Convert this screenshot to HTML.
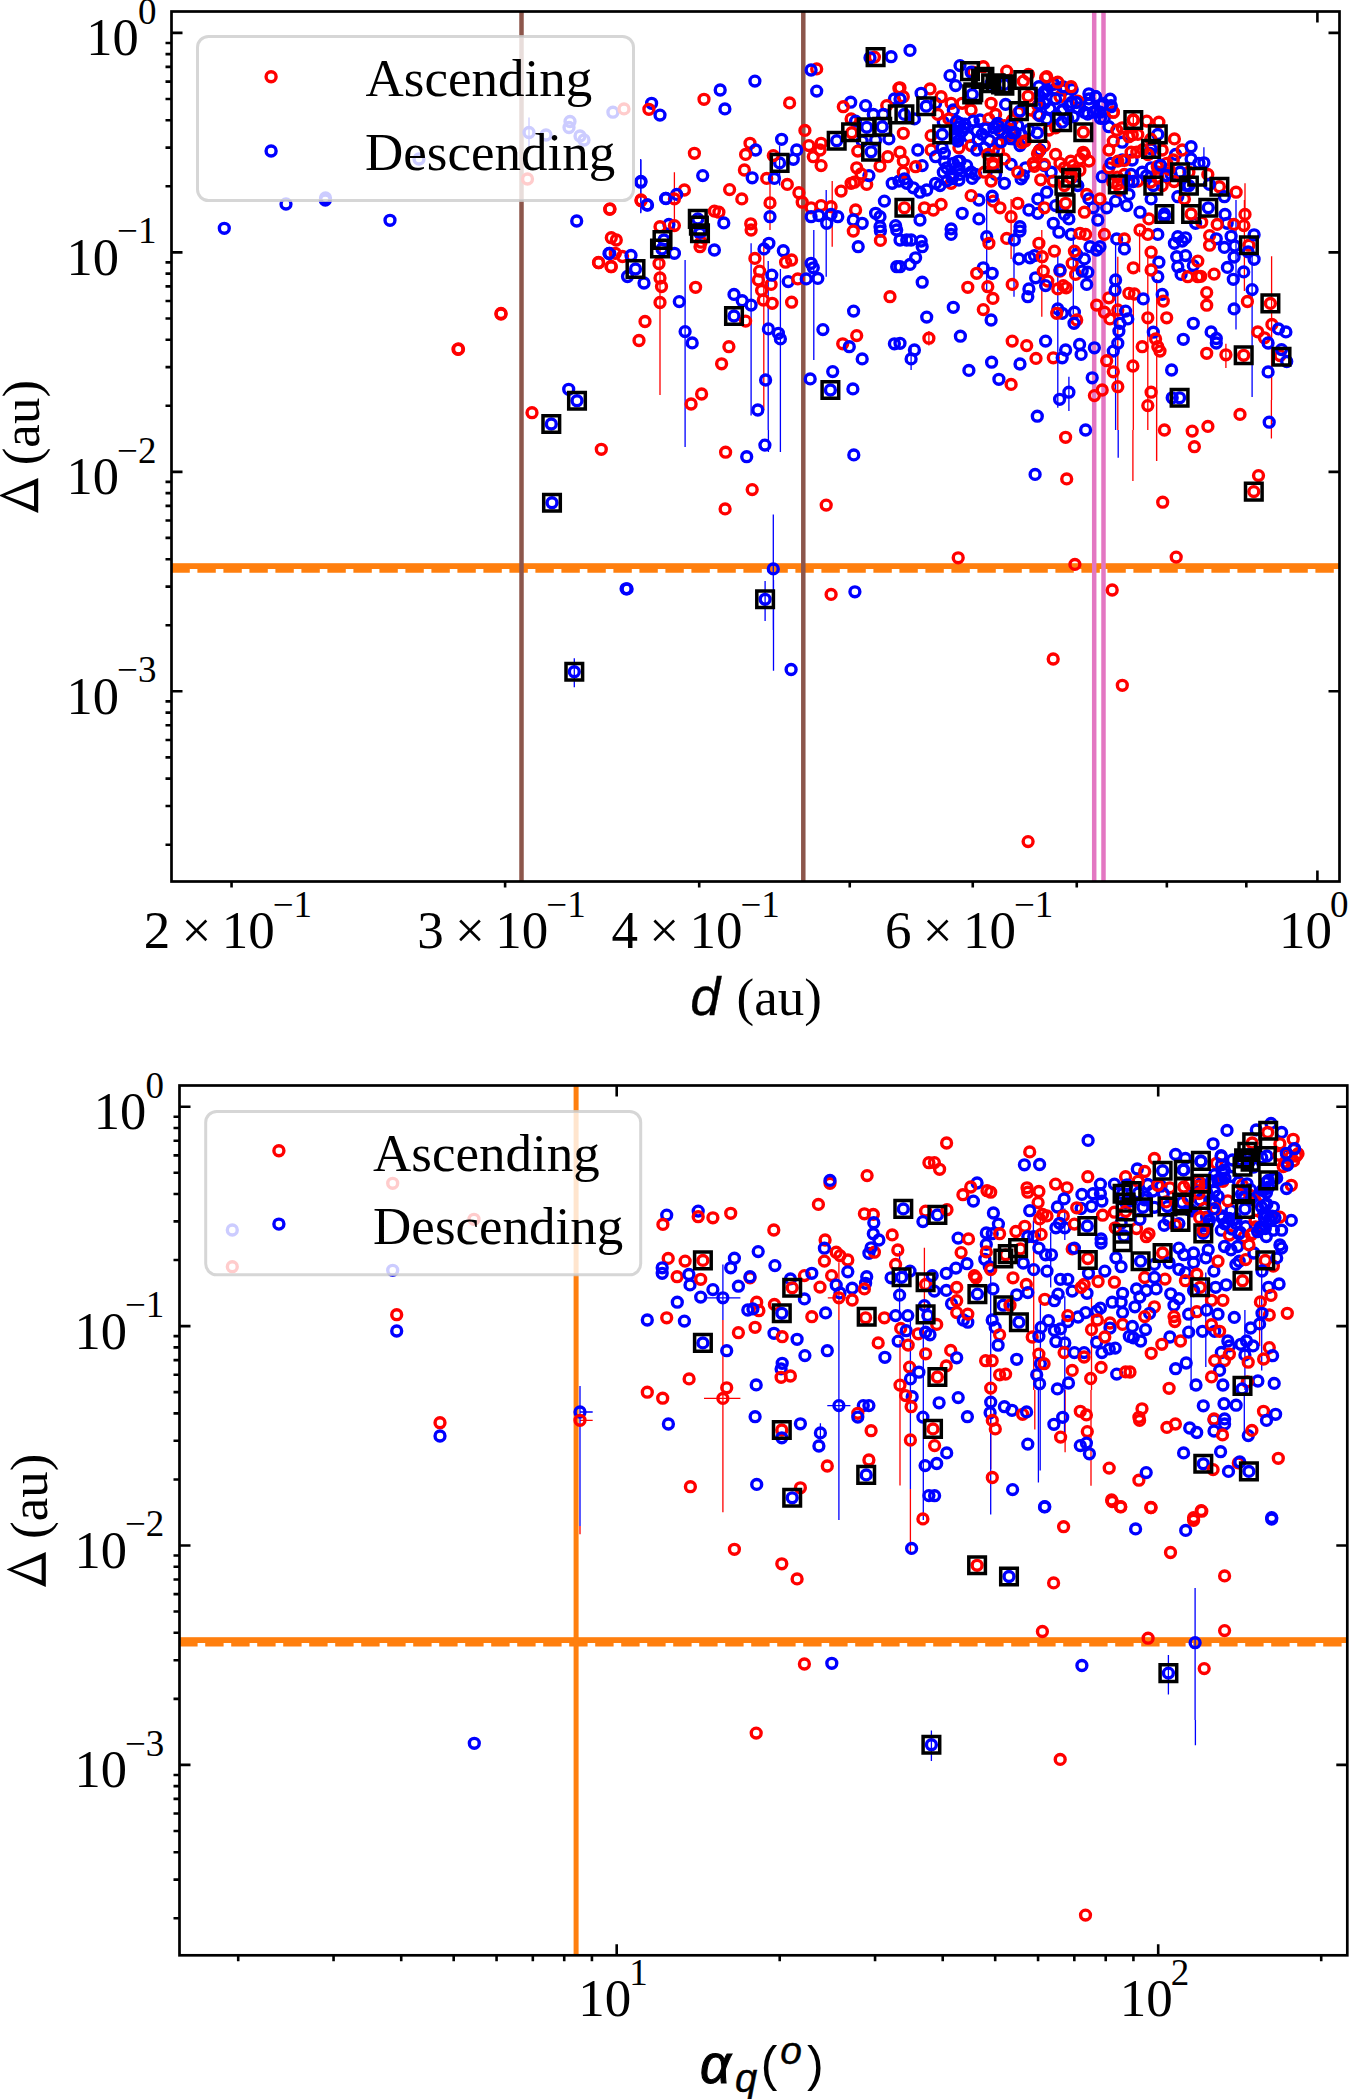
<!DOCTYPE html><html><head><meta charset="utf-8"><style>html,body{margin:0;padding:0;background:#fff;}svg{display:block}</style></head><body>
<svg width="1350" height="2099" viewBox="0 0 1350 2099">
<rect width="100%" height="100%" fill="#fff"/>
<clipPath id="ct"><rect x="171.5" y="11.5" width="1168.0" height="870.0"/></clipPath>
<g clip-path="url(#ct)">
<rect x="171.5" y="563.2" width="1168.0" height="5.8" fill="#ff7f0e"/>
<path d="M171.5,570.8H1339.5" stroke="#ff7f0e" stroke-width="3.8" stroke-dasharray="18.4 7.6" stroke-dashoffset="0.1"/>
<path d="M521.5,11.5V881.5" stroke="#8c564b" stroke-width="4.5"/>
<path d="M803.3,11.5V881.5" stroke="#8c564b" stroke-width="4.5"/>
<path d="M1094.2,11.5V881.5" stroke="#e377c2" stroke-width="4.5"/>
<path d="M1103.5,11.5V881.5" stroke="#e377c2" stroke-width="4.5"/>
<path d="M660.0,235.0V395.0M674.4,172.2V230.0M770.0,174.4V230.0M832.2,181.1V230.0M1133.3,110.0V132.2M1011.1,198.9V230.0M1245.0,183.3V230.0M763.8,238.9V410.0M832.2,230.0V246.7M1011.1,230.0V258.9M928.9,331.1V345.6M1041.8,230.0V316.7M1117.8,256.7V430.0M1139.6,230.0V272.2M1147.8,256.7V430.0M1156.7,278.9V430.0M1133.3,296.7V430.0M1244.4,200.0V291.1M1271.6,256.3V400.0M1225.9,343.7V368.1M1132.9,430.0V481.1M1156.7,430.0V461.1M1156.6,400.0V460.7M1271.4,400.0V438.5" stroke="#ff0000" stroke-width="1.3" fill="none"/>
<path d="M574.3,658.3V687.3M529.0,117.5V150.0M641.0,160.0V212.5M779.6,145.6V185.6M640.7,158.9V213.3M826.2,190.0V230.0M998.9,112.2V134.4M986.7,198.9V230.0M1203.9,147.2V173.3M685.1,260.0V430.0M751.1,243.3V415.6M768.2,261.1V430.0M780.4,268.9V430.0M813.8,230.0V360.0M826.2,230.0V276.7M986.7,230.0V292.2M1014.0,230.0V296.7M911.1,347.8V370.0M1073.3,234.4V314.4M1057.8,254.4V407.8M1115.6,243.3V430.0M1068.9,376.7V411.1M1236.0,200.0V329.6M1252.1,256.3V397.0M773.3,514.4V630.0M765.1,581.1V621.1M1118.2,430.0V457.8M773.5,580.0V670.7M685.1,430.0V447.0M768.4,430.0V452.0M780.4,430.0V452.0" stroke="#0000ff" stroke-width="1.3" fill="none"/>
<g fill="none" stroke-width="3.4"><circle cx="224.3" cy="228.3" r="4.95" stroke="#0000ff"/><circle cx="286.0" cy="204.0" r="4.95" stroke="#0000ff"/><circle cx="325.3" cy="200.0" r="4.95" stroke="#0000ff"/><circle cx="390.0" cy="220.3" r="4.95" stroke="#0000ff"/><circle cx="576.7" cy="221.0" r="4.95" stroke="#0000ff"/><circle cx="609.7" cy="209.3" r="4.95" stroke="#ff0000"/><circle cx="611.3" cy="237.7" r="4.95" stroke="#ff0000"/><circle cx="616.3" cy="240.0" r="4.95" stroke="#ff0000"/><circle cx="609.7" cy="253.3" r="4.95" stroke="#0000ff"/><circle cx="615.3" cy="253.3" r="4.95" stroke="#ff0000"/><circle cx="598.7" cy="262.7" r="4.95" stroke="#ff0000"/><circle cx="611.3" cy="266.7" r="4.95" stroke="#ff0000"/><circle cx="501.0" cy="314.0" r="4.95" stroke="#ff0000"/><circle cx="458.0" cy="349.3" r="4.95" stroke="#ff0000"/><circle cx="568.7" cy="389.3" r="4.95" stroke="#0000ff"/><circle cx="577.0" cy="400.7" r="4.95" stroke="#0000ff"/><circle cx="532.0" cy="412.7" r="4.95" stroke="#ff0000"/><circle cx="551.3" cy="424.0" r="4.95" stroke="#0000ff"/><circle cx="601.3" cy="449.3" r="4.95" stroke="#ff0000"/><circle cx="552.0" cy="502.7" r="4.95" stroke="#0000ff"/><circle cx="574.3" cy="671.7" r="4.95" stroke="#0000ff"/><circle cx="325.5" cy="198.0" r="4.95" stroke="#0000ff"/><circle cx="419.0" cy="159.0" r="4.95" stroke="#0000ff"/><circle cx="527.5" cy="179.0" r="4.95" stroke="#ff0000"/><circle cx="529.0" cy="132.5" r="4.95" stroke="#0000ff"/><circle cx="546.0" cy="135.0" r="4.95" stroke="#0000ff"/><circle cx="570.0" cy="121.5" r="4.95" stroke="#0000ff"/><circle cx="569.0" cy="127.5" r="4.95" stroke="#0000ff"/><circle cx="580.0" cy="136.0" r="4.95" stroke="#0000ff"/><circle cx="584.0" cy="140.0" r="4.95" stroke="#0000ff"/><circle cx="641.0" cy="181.5" r="4.95" stroke="#0000ff"/><circle cx="641.0" cy="200.0" r="4.95" stroke="#ff0000"/><circle cx="647.5" cy="205.0" r="4.95" stroke="#0000ff"/><circle cx="666.0" cy="198.5" r="4.95" stroke="#0000ff"/><circle cx="501.0" cy="313.5" r="4.95" stroke="#ff0000"/><circle cx="458.5" cy="349.0" r="4.95" stroke="#ff0000"/><circle cx="645.0" cy="321.5" r="4.95" stroke="#ff0000"/><circle cx="639.0" cy="340.5" r="4.95" stroke="#ff0000"/><circle cx="659.0" cy="263.5" r="4.95" stroke="#ff0000"/><circle cx="660.0" cy="278.0" r="4.95" stroke="#ff0000"/><circle cx="661.5" cy="286.5" r="4.95" stroke="#ff0000"/><circle cx="660.0" cy="302.5" r="4.95" stroke="#ff0000"/><circle cx="627.5" cy="276.5" r="4.95" stroke="#0000ff"/><circle cx="644.0" cy="283.0" r="4.95" stroke="#0000ff"/><circle cx="635.5" cy="269.0" r="4.95" stroke="#0000ff"/><circle cx="622.5" cy="256.5" r="4.95" stroke="#ff0000"/><circle cx="631.0" cy="255.5" r="4.95" stroke="#0000ff"/><circle cx="611.0" cy="266.5" r="4.95" stroke="#ff0000"/><circle cx="598.5" cy="262.5" r="4.95" stroke="#ff0000"/><circle cx="609.0" cy="253.5" r="4.95" stroke="#0000ff"/><circle cx="874.4" cy="57.1" r="4.95" stroke="#ff0000"/><circle cx="870.0" cy="57.8" r="4.95" stroke="#0000ff"/><circle cx="891.1" cy="56.7" r="4.95" stroke="#0000ff"/><circle cx="816.7" cy="68.9" r="4.95" stroke="#ff0000"/><circle cx="811.1" cy="70.0" r="4.95" stroke="#0000ff"/><circle cx="754.9" cy="81.1" r="4.95" stroke="#0000ff"/><circle cx="816.7" cy="91.1" r="4.95" stroke="#0000ff"/><circle cx="720.2" cy="90.0" r="4.95" stroke="#0000ff"/><circle cx="704.0" cy="99.3" r="4.95" stroke="#ff0000"/><circle cx="724.9" cy="108.9" r="4.95" stroke="#0000ff"/><circle cx="789.6" cy="102.9" r="4.95" stroke="#ff0000"/><circle cx="651.6" cy="103.3" r="4.95" stroke="#0000ff"/><circle cx="648.9" cy="109.3" r="4.95" stroke="#ff0000"/><circle cx="660.0" cy="115.1" r="4.95" stroke="#0000ff"/><circle cx="612.9" cy="112.2" r="4.95" stroke="#0000ff"/><circle cx="624.0" cy="108.9" r="4.95" stroke="#ff0000"/><circle cx="850.7" cy="102.2" r="4.95" stroke="#0000ff"/><circle cx="843.3" cy="106.7" r="4.95" stroke="#ff0000"/><circle cx="865.6" cy="105.6" r="4.95" stroke="#0000ff"/><circle cx="898.9" cy="88.2" r="4.95" stroke="#ff0000"/><circle cx="894.4" cy="98.9" r="4.95" stroke="#0000ff"/><circle cx="886.7" cy="105.6" r="4.95" stroke="#ff0000"/><circle cx="851.1" cy="118.9" r="4.95" stroke="#ff0000"/><circle cx="855.6" cy="121.1" r="4.95" stroke="#0000ff"/><circle cx="804.9" cy="130.4" r="4.95" stroke="#ff0000"/><circle cx="836.7" cy="140.7" r="4.95" stroke="#0000ff"/><circle cx="851.8" cy="132.7" r="4.95" stroke="#ff0000"/><circle cx="866.7" cy="127.3" r="4.95" stroke="#0000ff"/><circle cx="882.2" cy="126.7" r="4.95" stroke="#0000ff"/><circle cx="873.3" cy="114.4" r="4.95" stroke="#0000ff"/><circle cx="883.3" cy="114.4" r="4.95" stroke="#0000ff"/><circle cx="888.9" cy="138.9" r="4.95" stroke="#0000ff"/><circle cx="862.2" cy="141.1" r="4.95" stroke="#0000ff"/><circle cx="875.6" cy="140.0" r="4.95" stroke="#0000ff"/><circle cx="871.1" cy="151.8" r="4.95" stroke="#0000ff"/><circle cx="857.8" cy="151.1" r="4.95" stroke="#ff0000"/><circle cx="887.8" cy="156.7" r="4.95" stroke="#ff0000"/><circle cx="880.0" cy="166.0" r="4.95" stroke="#ff0000"/><circle cx="808.9" cy="145.6" r="4.95" stroke="#ff0000"/><circle cx="821.1" cy="143.3" r="4.95" stroke="#ff0000"/><circle cx="820.0" cy="150.0" r="4.95" stroke="#ff0000"/><circle cx="813.3" cy="156.7" r="4.95" stroke="#ff0000"/><circle cx="821.1" cy="165.6" r="4.95" stroke="#ff0000"/><circle cx="781.6" cy="139.3" r="4.95" stroke="#0000ff"/><circle cx="796.7" cy="150.0" r="4.95" stroke="#0000ff"/><circle cx="793.3" cy="159.3" r="4.95" stroke="#0000ff"/><circle cx="779.6" cy="162.9" r="4.95" stroke="#0000ff"/><circle cx="773.3" cy="155.6" r="4.95" stroke="#ff0000"/><circle cx="750.0" cy="143.3" r="4.95" stroke="#ff0000"/><circle cx="755.6" cy="150.0" r="4.95" stroke="#0000ff"/><circle cx="745.6" cy="154.4" r="4.95" stroke="#ff0000"/><circle cx="694.4" cy="153.3" r="4.95" stroke="#ff0000"/><circle cx="744.4" cy="170.0" r="4.95" stroke="#ff0000"/><circle cx="752.2" cy="177.8" r="4.95" stroke="#0000ff"/><circle cx="766.7" cy="178.4" r="4.95" stroke="#ff0000"/><circle cx="774.4" cy="178.4" r="4.95" stroke="#0000ff"/><circle cx="787.3" cy="184.4" r="4.95" stroke="#ff0000"/><circle cx="798.9" cy="192.7" r="4.95" stroke="#ff0000"/><circle cx="802.2" cy="202.2" r="4.95" stroke="#ff0000"/><circle cx="702.7" cy="175.6" r="4.95" stroke="#0000ff"/><circle cx="640.7" cy="182.2" r="4.95" stroke="#0000ff"/><circle cx="684.4" cy="190.0" r="4.95" stroke="#ff0000"/><circle cx="676.7" cy="194.4" r="4.95" stroke="#0000ff"/><circle cx="674.4" cy="198.9" r="4.95" stroke="#ff0000"/><circle cx="665.6" cy="198.4" r="4.95" stroke="#0000ff"/><circle cx="641.1" cy="200.7" r="4.95" stroke="#ff0000"/><circle cx="647.1" cy="204.9" r="4.95" stroke="#0000ff"/><circle cx="610.0" cy="208.9" r="4.95" stroke="#ff0000"/><circle cx="729.6" cy="189.6" r="4.95" stroke="#ff0000"/><circle cx="741.8" cy="198.9" r="4.95" stroke="#ff0000"/><circle cx="770.0" cy="202.9" r="4.95" stroke="#ff0000"/><circle cx="770.0" cy="216.7" r="4.95" stroke="#0000ff"/><circle cx="718.9" cy="212.2" r="4.95" stroke="#ff0000"/><circle cx="714.4" cy="211.1" r="4.95" stroke="#ff0000"/><circle cx="723.8" cy="222.9" r="4.95" stroke="#0000ff"/><circle cx="750.7" cy="223.8" r="4.95" stroke="#ff0000"/><circle cx="697.8" cy="218.9" r="4.95" stroke="#0000ff"/><circle cx="668.9" cy="224.4" r="4.95" stroke="#0000ff"/><circle cx="674.4" cy="225.6" r="4.95" stroke="#ff0000"/><circle cx="660.0" cy="226.7" r="4.95" stroke="#ff0000"/><circle cx="841.1" cy="191.1" r="4.95" stroke="#ff0000"/><circle cx="851.1" cy="183.3" r="4.95" stroke="#ff0000"/><circle cx="854.4" cy="182.2" r="4.95" stroke="#ff0000"/><circle cx="866.7" cy="184.4" r="4.95" stroke="#ff0000"/><circle cx="856.7" cy="167.8" r="4.95" stroke="#ff0000"/><circle cx="868.9" cy="175.6" r="4.95" stroke="#0000ff"/><circle cx="861.1" cy="174.0" r="4.95" stroke="#ff0000"/><circle cx="892.2" cy="183.3" r="4.95" stroke="#0000ff"/><circle cx="898.9" cy="181.1" r="4.95" stroke="#0000ff"/><circle cx="884.4" cy="201.1" r="4.95" stroke="#0000ff"/><circle cx="821.1" cy="205.6" r="4.95" stroke="#ff0000"/><circle cx="831.1" cy="206.7" r="4.95" stroke="#ff0000"/><circle cx="811.1" cy="207.8" r="4.95" stroke="#ff0000"/><circle cx="811.1" cy="216.7" r="4.95" stroke="#0000ff"/><circle cx="818.9" cy="215.6" r="4.95" stroke="#0000ff"/><circle cx="826.7" cy="223.3" r="4.95" stroke="#0000ff"/><circle cx="837.8" cy="216.7" r="4.95" stroke="#0000ff"/><circle cx="831.1" cy="214.4" r="4.95" stroke="#0000ff"/><circle cx="855.6" cy="210.0" r="4.95" stroke="#ff0000"/><circle cx="853.3" cy="220.0" r="4.95" stroke="#0000ff"/><circle cx="862.2" cy="223.3" r="4.95" stroke="#0000ff"/><circle cx="875.6" cy="213.3" r="4.95" stroke="#0000ff"/><circle cx="880.0" cy="216.7" r="4.95" stroke="#0000ff"/><circle cx="880.0" cy="226.7" r="4.95" stroke="#0000ff"/><circle cx="895.6" cy="225.6" r="4.95" stroke="#0000ff"/><circle cx="910.0" cy="50.4" r="4.95" stroke="#0000ff"/><circle cx="960.0" cy="65.6" r="4.95" stroke="#0000ff"/><circle cx="950.0" cy="75.6" r="4.95" stroke="#0000ff"/><circle cx="983.3" cy="66.7" r="4.95" stroke="#ff0000"/><circle cx="1006.7" cy="71.1" r="4.95" stroke="#ff0000"/><circle cx="1028.4" cy="74.4" r="4.95" stroke="#ff0000"/><circle cx="955.6" cy="85.6" r="4.95" stroke="#0000ff"/><circle cx="973.3" cy="72.2" r="4.95" stroke="#ff0000"/><circle cx="991.1" cy="103.3" r="4.95" stroke="#ff0000"/><circle cx="1005.6" cy="104.4" r="4.95" stroke="#0000ff"/><circle cx="971.1" cy="110.0" r="4.95" stroke="#ff0000"/><circle cx="1045.6" cy="77.8" r="4.95" stroke="#ff0000"/><circle cx="1053.3" cy="84.4" r="4.95" stroke="#ff0000"/><circle cx="1038.9" cy="86.7" r="4.95" stroke="#0000ff"/><circle cx="1046.7" cy="90.0" r="4.95" stroke="#0000ff"/><circle cx="1055.6" cy="88.9" r="4.95" stroke="#0000ff"/><circle cx="1063.3" cy="90.0" r="4.95" stroke="#0000ff"/><circle cx="1072.2" cy="89.6" r="4.95" stroke="#0000ff"/><circle cx="1060.0" cy="96.7" r="4.95" stroke="#ff0000"/><circle cx="1044.4" cy="103.3" r="4.95" stroke="#0000ff"/><circle cx="1037.8" cy="105.6" r="4.95" stroke="#ff0000"/><circle cx="1055.6" cy="98.9" r="4.95" stroke="#0000ff"/><circle cx="1068.9" cy="105.6" r="4.95" stroke="#0000ff"/><circle cx="1077.8" cy="107.8" r="4.95" stroke="#0000ff"/><circle cx="1088.9" cy="98.9" r="4.95" stroke="#0000ff"/><circle cx="1095.6" cy="96.7" r="4.95" stroke="#0000ff"/><circle cx="1101.1" cy="105.6" r="4.95" stroke="#0000ff"/><circle cx="1111.1" cy="106.7" r="4.95" stroke="#0000ff"/><circle cx="1084.4" cy="112.2" r="4.95" stroke="#0000ff"/><circle cx="1093.3" cy="112.2" r="4.95" stroke="#0000ff"/><circle cx="1100.0" cy="112.2" r="4.95" stroke="#0000ff"/><circle cx="1073.3" cy="116.7" r="4.95" stroke="#0000ff"/><circle cx="1077.8" cy="101.1" r="4.95" stroke="#ff0000"/><circle cx="1113.3" cy="112.2" r="4.95" stroke="#ff0000"/><circle cx="1108.9" cy="126.7" r="4.95" stroke="#0000ff"/><circle cx="900.0" cy="87.8" r="4.95" stroke="#ff0000"/><circle cx="903.3" cy="96.7" r="4.95" stroke="#ff0000"/><circle cx="900.0" cy="98.9" r="4.95" stroke="#0000ff"/><circle cx="914.4" cy="118.9" r="4.95" stroke="#0000ff"/><circle cx="930.0" cy="88.9" r="4.95" stroke="#ff0000"/><circle cx="921.1" cy="93.3" r="4.95" stroke="#0000ff"/><circle cx="935.6" cy="103.3" r="4.95" stroke="#0000ff"/><circle cx="941.1" cy="96.7" r="4.95" stroke="#ff0000"/><circle cx="951.1" cy="103.3" r="4.95" stroke="#ff0000"/><circle cx="953.3" cy="110.0" r="4.95" stroke="#0000ff"/><circle cx="962.2" cy="103.3" r="4.95" stroke="#ff0000"/><circle cx="903.3" cy="133.3" r="4.95" stroke="#ff0000"/><circle cx="931.1" cy="135.6" r="4.95" stroke="#ff0000"/><circle cx="943.3" cy="122.2" r="4.95" stroke="#0000ff"/><circle cx="960.0" cy="123.3" r="4.95" stroke="#0000ff"/><circle cx="964.4" cy="127.8" r="4.95" stroke="#0000ff"/><circle cx="955.6" cy="134.4" r="4.95" stroke="#0000ff"/><circle cx="973.3" cy="121.1" r="4.95" stroke="#0000ff"/><circle cx="980.0" cy="120.0" r="4.95" stroke="#0000ff"/><circle cx="986.7" cy="127.8" r="4.95" stroke="#0000ff"/><circle cx="976.7" cy="131.1" r="4.95" stroke="#0000ff"/><circle cx="982.2" cy="134.4" r="4.95" stroke="#0000ff"/><circle cx="968.9" cy="136.7" r="4.95" stroke="#0000ff"/><circle cx="962.2" cy="131.1" r="4.95" stroke="#0000ff"/><circle cx="948.9" cy="118.9" r="4.95" stroke="#ff0000"/><circle cx="937.8" cy="114.4" r="4.95" stroke="#ff0000"/><circle cx="995.6" cy="114.4" r="4.95" stroke="#ff0000"/><circle cx="988.9" cy="118.9" r="4.95" stroke="#ff0000"/><circle cx="997.8" cy="123.3" r="4.95" stroke="#0000ff"/><circle cx="1004.4" cy="125.6" r="4.95" stroke="#ff0000"/><circle cx="1011.1" cy="130.0" r="4.95" stroke="#0000ff"/><circle cx="1017.8" cy="125.6" r="4.95" stroke="#0000ff"/><circle cx="1006.7" cy="136.7" r="4.95" stroke="#0000ff"/><circle cx="1013.3" cy="138.9" r="4.95" stroke="#0000ff"/><circle cx="1021.1" cy="134.4" r="4.95" stroke="#0000ff"/><circle cx="1024.4" cy="141.1" r="4.95" stroke="#0000ff"/><circle cx="1020.0" cy="145.6" r="4.95" stroke="#0000ff"/><circle cx="1028.9" cy="130.0" r="4.95" stroke="#0000ff"/><circle cx="1031.1" cy="110.0" r="4.95" stroke="#ff0000"/><circle cx="1037.8" cy="114.4" r="4.95" stroke="#ff0000"/><circle cx="1048.9" cy="130.0" r="4.95" stroke="#ff0000"/><circle cx="1046.7" cy="118.9" r="4.95" stroke="#0000ff"/><circle cx="1055.6" cy="127.8" r="4.95" stroke="#ff0000"/><circle cx="917.8" cy="150.0" r="4.95" stroke="#0000ff"/><circle cx="931.1" cy="150.0" r="4.95" stroke="#ff0000"/><circle cx="935.6" cy="156.7" r="4.95" stroke="#0000ff"/><circle cx="944.4" cy="153.3" r="4.95" stroke="#0000ff"/><circle cx="942.2" cy="147.8" r="4.95" stroke="#0000ff"/><circle cx="958.9" cy="147.8" r="4.95" stroke="#ff0000"/><circle cx="957.8" cy="141.1" r="4.95" stroke="#0000ff"/><circle cx="971.1" cy="145.6" r="4.95" stroke="#ff0000"/><circle cx="976.7" cy="150.0" r="4.95" stroke="#0000ff"/><circle cx="984.4" cy="147.8" r="4.95" stroke="#0000ff"/><circle cx="993.3" cy="150.0" r="4.95" stroke="#0000ff"/><circle cx="997.8" cy="143.3" r="4.95" stroke="#ff0000"/><circle cx="987.8" cy="154.4" r="4.95" stroke="#ff0000"/><circle cx="922.2" cy="165.6" r="4.95" stroke="#0000ff"/><circle cx="915.6" cy="166.7" r="4.95" stroke="#ff0000"/><circle cx="903.3" cy="161.1" r="4.95" stroke="#ff0000"/><circle cx="900.0" cy="152.2" r="4.95" stroke="#ff0000"/><circle cx="946.7" cy="167.8" r="4.95" stroke="#0000ff"/><circle cx="953.3" cy="163.3" r="4.95" stroke="#0000ff"/><circle cx="960.0" cy="161.1" r="4.95" stroke="#0000ff"/><circle cx="966.7" cy="165.6" r="4.95" stroke="#0000ff"/><circle cx="971.1" cy="172.2" r="4.95" stroke="#0000ff"/><circle cx="960.0" cy="174.4" r="4.95" stroke="#0000ff"/><circle cx="951.1" cy="174.4" r="4.95" stroke="#0000ff"/><circle cx="943.3" cy="172.2" r="4.95" stroke="#0000ff"/><circle cx="975.6" cy="174.4" r="4.95" stroke="#0000ff"/><circle cx="951.1" cy="183.3" r="4.95" stroke="#ff0000"/><circle cx="958.9" cy="180.0" r="4.95" stroke="#0000ff"/><circle cx="993.3" cy="165.6" r="4.95" stroke="#ff0000"/><circle cx="995.6" cy="174.4" r="4.95" stroke="#0000ff"/><circle cx="984.4" cy="172.2" r="4.95" stroke="#ff0000"/><circle cx="1004.4" cy="183.3" r="4.95" stroke="#0000ff"/><circle cx="1011.1" cy="164.4" r="4.95" stroke="#0000ff"/><circle cx="1004.4" cy="158.9" r="4.95" stroke="#ff0000"/><circle cx="991.1" cy="181.1" r="4.95" stroke="#ff0000"/><circle cx="1025.6" cy="167.8" r="4.95" stroke="#0000ff"/><circle cx="1023.3" cy="175.6" r="4.95" stroke="#0000ff"/><circle cx="1021.1" cy="178.9" r="4.95" stroke="#0000ff"/><circle cx="1017.8" cy="172.2" r="4.95" stroke="#ff0000"/><circle cx="1033.3" cy="163.3" r="4.95" stroke="#ff0000"/><circle cx="1040.0" cy="150.0" r="4.95" stroke="#0000ff"/><circle cx="1044.4" cy="145.6" r="4.95" stroke="#ff0000"/><circle cx="1055.6" cy="154.4" r="4.95" stroke="#ff0000"/><circle cx="1060.0" cy="163.3" r="4.95" stroke="#ff0000"/><circle cx="1044.4" cy="165.6" r="4.95" stroke="#0000ff"/><circle cx="1051.1" cy="172.2" r="4.95" stroke="#0000ff"/><circle cx="1053.3" cy="181.1" r="4.95" stroke="#ff0000"/><circle cx="1046.7" cy="192.2" r="4.95" stroke="#0000ff"/><circle cx="1064.4" cy="167.8" r="4.95" stroke="#ff0000"/><circle cx="1077.8" cy="185.6" r="4.95" stroke="#0000ff"/><circle cx="1086.7" cy="194.4" r="4.95" stroke="#ff0000"/><circle cx="1088.9" cy="198.9" r="4.95" stroke="#0000ff"/><circle cx="1080.0" cy="158.9" r="4.95" stroke="#ff0000"/><circle cx="1084.4" cy="154.4" r="4.95" stroke="#ff0000"/><circle cx="1088.9" cy="161.1" r="4.95" stroke="#ff0000"/><circle cx="1073.3" cy="165.6" r="4.95" stroke="#ff0000"/><circle cx="1102.2" cy="176.7" r="4.95" stroke="#0000ff"/><circle cx="1108.9" cy="167.8" r="4.95" stroke="#ff0000"/><circle cx="1111.1" cy="163.3" r="4.95" stroke="#0000ff"/><circle cx="1122.2" cy="160.0" r="4.95" stroke="#0000ff"/><circle cx="1132.2" cy="160.0" r="4.95" stroke="#0000ff"/><circle cx="1117.8" cy="161.1" r="4.95" stroke="#ff0000"/><circle cx="1131.1" cy="152.2" r="4.95" stroke="#ff0000"/><circle cx="1124.4" cy="174.4" r="4.95" stroke="#ff0000"/><circle cx="1131.1" cy="174.4" r="4.95" stroke="#0000ff"/><circle cx="1137.8" cy="181.1" r="4.95" stroke="#ff0000"/><circle cx="1142.2" cy="172.2" r="4.95" stroke="#0000ff"/><circle cx="1151.1" cy="167.8" r="4.95" stroke="#0000ff"/><circle cx="1157.8" cy="172.2" r="4.95" stroke="#ff0000"/><circle cx="1108.9" cy="150.0" r="4.95" stroke="#ff0000"/><circle cx="1122.2" cy="142.2" r="4.95" stroke="#0000ff"/><circle cx="1113.3" cy="141.1" r="4.95" stroke="#ff0000"/><circle cx="1128.9" cy="136.7" r="4.95" stroke="#ff0000"/><circle cx="1137.8" cy="134.4" r="4.95" stroke="#ff0000"/><circle cx="1133.3" cy="120.0" r="4.95" stroke="#ff0000"/><circle cx="1146.7" cy="121.1" r="4.95" stroke="#ff0000"/><circle cx="1158.9" cy="122.2" r="4.95" stroke="#ff0000"/><circle cx="1122.2" cy="127.8" r="4.95" stroke="#ff0000"/><circle cx="1150.0" cy="153.3" r="4.95" stroke="#0000ff"/><circle cx="1162.2" cy="150.0" r="4.95" stroke="#ff0000"/><circle cx="1174.4" cy="138.9" r="4.95" stroke="#ff0000"/><circle cx="1175.6" cy="154.4" r="4.95" stroke="#0000ff"/><circle cx="1182.2" cy="150.0" r="4.95" stroke="#ff0000"/><circle cx="1191.1" cy="146.7" r="4.95" stroke="#0000ff"/><circle cx="1191.1" cy="158.9" r="4.95" stroke="#0000ff"/><circle cx="1198.9" cy="163.3" r="4.95" stroke="#0000ff"/><circle cx="1171.1" cy="174.4" r="4.95" stroke="#0000ff"/><circle cx="1166.7" cy="163.3" r="4.95" stroke="#ff0000"/><circle cx="1188.9" cy="172.2" r="4.95" stroke="#ff0000"/><circle cx="1151.1" cy="198.9" r="4.95" stroke="#0000ff"/><circle cx="1162.2" cy="185.6" r="4.95" stroke="#ff0000"/><circle cx="1177.8" cy="196.7" r="4.95" stroke="#0000ff"/><circle cx="1184.4" cy="198.9" r="4.95" stroke="#ff0000"/><circle cx="1164.4" cy="216.7" r="4.95" stroke="#0000ff"/><circle cx="1148.9" cy="218.9" r="4.95" stroke="#ff0000"/><circle cx="1140.0" cy="212.2" r="4.95" stroke="#0000ff"/><circle cx="1195.6" cy="223.3" r="4.95" stroke="#0000ff"/><circle cx="1037.8" cy="198.9" r="4.95" stroke="#0000ff"/><circle cx="1028.9" cy="210.0" r="4.95" stroke="#0000ff"/><circle cx="1037.8" cy="213.3" r="4.95" stroke="#0000ff"/><circle cx="1017.8" cy="203.3" r="4.95" stroke="#ff0000"/><circle cx="1011.1" cy="216.7" r="4.95" stroke="#ff0000"/><circle cx="1020.0" cy="226.7" r="4.95" stroke="#0000ff"/><circle cx="1000.0" cy="207.8" r="4.95" stroke="#ff0000"/><circle cx="993.3" cy="201.1" r="4.95" stroke="#ff0000"/><circle cx="992.2" cy="196.2" r="4.95" stroke="#0000ff"/><circle cx="978.9" cy="200.0" r="4.95" stroke="#0000ff"/><circle cx="971.1" cy="195.6" r="4.95" stroke="#ff0000"/><circle cx="978.9" cy="218.9" r="4.95" stroke="#0000ff"/><circle cx="962.2" cy="213.3" r="4.95" stroke="#0000ff"/><circle cx="951.1" cy="228.9" r="4.95" stroke="#0000ff"/><circle cx="940.0" cy="185.6" r="4.95" stroke="#0000ff"/><circle cx="926.7" cy="190.0" r="4.95" stroke="#0000ff"/><circle cx="913.3" cy="187.8" r="4.95" stroke="#0000ff"/><circle cx="906.7" cy="183.3" r="4.95" stroke="#0000ff"/><circle cx="935.6" cy="183.3" r="4.95" stroke="#0000ff"/><circle cx="920.0" cy="192.2" r="4.95" stroke="#0000ff"/><circle cx="903.3" cy="172.2" r="4.95" stroke="#ff0000"/><circle cx="904.4" cy="178.9" r="4.95" stroke="#0000ff"/><circle cx="924.4" cy="207.8" r="4.95" stroke="#ff0000"/><circle cx="933.3" cy="210.0" r="4.95" stroke="#ff0000"/><circle cx="941.1" cy="204.4" r="4.95" stroke="#ff0000"/><circle cx="920.0" cy="220.0" r="4.95" stroke="#0000ff"/><circle cx="1093.3" cy="207.8" r="4.95" stroke="#0000ff"/><circle cx="1106.7" cy="207.8" r="4.95" stroke="#0000ff"/><circle cx="1115.6" cy="201.1" r="4.95" stroke="#0000ff"/><circle cx="1126.7" cy="205.6" r="4.95" stroke="#0000ff"/><circle cx="1100.0" cy="198.9" r="4.95" stroke="#ff0000"/><circle cx="1097.8" cy="220.0" r="4.95" stroke="#0000ff"/><circle cx="1084.4" cy="212.2" r="4.95" stroke="#ff0000"/><circle cx="1068.9" cy="218.9" r="4.95" stroke="#0000ff"/><circle cx="1064.4" cy="214.4" r="4.95" stroke="#0000ff"/><circle cx="1053.3" cy="223.3" r="4.95" stroke="#0000ff"/><circle cx="1044.4" cy="207.8" r="4.95" stroke="#ff0000"/><circle cx="1055.6" cy="205.6" r="4.95" stroke="#0000ff"/><circle cx="1120.0" cy="190.0" r="4.95" stroke="#ff0000"/><circle cx="1128.9" cy="194.4" r="4.95" stroke="#0000ff"/><circle cx="904.4" cy="114.4" r="4.95" stroke="#0000ff"/><circle cx="926.2" cy="106.2" r="4.95" stroke="#0000ff"/><circle cx="942.2" cy="134.4" r="4.95" stroke="#0000ff"/><circle cx="1062.2" cy="122.2" r="4.95" stroke="#0000ff"/><circle cx="1083.3" cy="132.2" r="4.95" stroke="#ff0000"/><circle cx="1037.3" cy="132.9" r="4.95" stroke="#0000ff"/><circle cx="992.9" cy="163.3" r="4.95" stroke="#ff0000"/><circle cx="1071.1" cy="177.8" r="4.95" stroke="#ff0000"/><circle cx="1064.4" cy="185.6" r="4.95" stroke="#ff0000"/><circle cx="1065.6" cy="203.3" r="4.95" stroke="#ff0000"/><circle cx="1117.8" cy="184.4" r="4.95" stroke="#ff0000"/><circle cx="1133.3" cy="120.0" r="4.95" stroke="#ff0000"/><circle cx="1157.8" cy="134.4" r="4.95" stroke="#0000ff"/><circle cx="1151.1" cy="148.9" r="4.95" stroke="#0000ff"/><circle cx="1180.0" cy="172.2" r="4.95" stroke="#0000ff"/><circle cx="1153.3" cy="185.6" r="4.95" stroke="#0000ff"/><circle cx="1188.9" cy="185.6" r="4.95" stroke="#0000ff"/><circle cx="1164.4" cy="214.0" r="4.95" stroke="#0000ff"/><circle cx="1191.1" cy="214.0" r="4.95" stroke="#ff0000"/><circle cx="904.4" cy="207.8" r="4.95" stroke="#ff0000"/><circle cx="1023.3" cy="81.1" r="4.95" stroke="#ff0000"/><circle cx="972.2" cy="94.4" r="4.95" stroke="#0000ff"/><circle cx="1004.4" cy="84.4" r="4.95" stroke="#0000ff"/><circle cx="991.1" cy="83.3" r="4.95" stroke="#0000ff"/><circle cx="971.1" cy="72.2" r="4.95" stroke="#0000ff"/><circle cx="1063.2" cy="86.8" r="4.95" stroke="#0000ff"/><circle cx="1044.3" cy="91.7" r="4.95" stroke="#0000ff"/><circle cx="1071.6" cy="102.4" r="4.95" stroke="#0000ff"/><circle cx="1061.9" cy="110.7" r="4.95" stroke="#0000ff"/><circle cx="1049.9" cy="108.7" r="4.95" stroke="#0000ff"/><circle cx="1104.2" cy="118.5" r="4.95" stroke="#0000ff"/><circle cx="1087.7" cy="114.1" r="4.95" stroke="#0000ff"/><circle cx="1089.1" cy="104.2" r="4.95" stroke="#0000ff"/><circle cx="1110.2" cy="99.2" r="4.95" stroke="#0000ff"/><circle cx="1039.4" cy="95.6" r="4.95" stroke="#0000ff"/><circle cx="1067.6" cy="118.5" r="4.95" stroke="#0000ff"/><circle cx="1103.3" cy="103.7" r="4.95" stroke="#0000ff"/><circle cx="1100.5" cy="118.3" r="4.95" stroke="#0000ff"/><circle cx="1088.9" cy="93.8" r="4.95" stroke="#0000ff"/><circle cx="1039.5" cy="115.6" r="4.95" stroke="#0000ff"/><circle cx="1039.6" cy="104.0" r="4.95" stroke="#0000ff"/><circle cx="1056.2" cy="115.8" r="4.95" stroke="#0000ff"/><circle cx="1076.2" cy="102.5" r="4.95" stroke="#0000ff"/><circle cx="1063.0" cy="109.7" r="4.95" stroke="#0000ff"/><circle cx="1053.7" cy="84.0" r="4.95" stroke="#0000ff"/><circle cx="1043.3" cy="93.6" r="4.95" stroke="#0000ff"/><circle cx="1150.8" cy="139.1" r="4.95" stroke="#ff0000"/><circle cx="1117.4" cy="177.1" r="4.95" stroke="#ff0000"/><circle cx="1147.9" cy="154.6" r="4.95" stroke="#ff0000"/><circle cx="1150.7" cy="182.1" r="4.95" stroke="#ff0000"/><circle cx="1157.3" cy="166.4" r="4.95" stroke="#ff0000"/><circle cx="1174.1" cy="181.6" r="4.95" stroke="#ff0000"/><circle cx="1158.0" cy="178.0" r="4.95" stroke="#ff0000"/><circle cx="1116.8" cy="130.2" r="4.95" stroke="#ff0000"/><circle cx="1132.3" cy="134.8" r="4.95" stroke="#ff0000"/><circle cx="1173.3" cy="159.9" r="4.95" stroke="#ff0000"/><circle cx="1142.9" cy="149.7" r="4.95" stroke="#ff0000"/><circle cx="1124.5" cy="160.4" r="4.95" stroke="#ff0000"/><circle cx="1136.8" cy="152.1" r="4.95" stroke="#ff0000"/><circle cx="1112.8" cy="182.4" r="4.95" stroke="#ff0000"/><circle cx="1169.0" cy="169.4" r="4.95" stroke="#ff0000"/><circle cx="1128.7" cy="181.3" r="4.95" stroke="#0000ff"/><circle cx="1166.0" cy="175.5" r="4.95" stroke="#0000ff"/><circle cx="1133.2" cy="181.5" r="4.95" stroke="#0000ff"/><circle cx="1146.5" cy="175.8" r="4.95" stroke="#0000ff"/><circle cx="1160.5" cy="165.2" r="4.95" stroke="#0000ff"/><circle cx="1186.0" cy="185.3" r="4.95" stroke="#0000ff"/><circle cx="978.2" cy="139.9" r="4.95" stroke="#0000ff"/><circle cx="985.5" cy="129.1" r="4.95" stroke="#0000ff"/><circle cx="955.8" cy="138.3" r="4.95" stroke="#0000ff"/><circle cx="955.7" cy="136.2" r="4.95" stroke="#0000ff"/><circle cx="964.8" cy="124.1" r="4.95" stroke="#0000ff"/><circle cx="958.4" cy="127.0" r="4.95" stroke="#0000ff"/><circle cx="956.4" cy="121.5" r="4.95" stroke="#0000ff"/><circle cx="989.4" cy="140.4" r="4.95" stroke="#0000ff"/><circle cx="1025.4" cy="140.8" r="4.95" stroke="#ff0000"/><circle cx="1013.0" cy="134.4" r="4.95" stroke="#ff0000"/><circle cx="1011.1" cy="137.9" r="4.95" stroke="#ff0000"/><circle cx="1003.6" cy="133.6" r="4.95" stroke="#ff0000"/><circle cx="998.5" cy="150.8" r="4.95" stroke="#ff0000"/><circle cx="1012.4" cy="120.1" r="4.95" stroke="#ff0000"/><circle cx="1037.5" cy="153.7" r="4.95" stroke="#ff0000"/><circle cx="1022.0" cy="142.5" r="4.95" stroke="#ff0000"/><circle cx="999.7" cy="130.7" r="4.95" stroke="#0000ff"/><circle cx="1010.6" cy="138.7" r="4.95" stroke="#0000ff"/><circle cx="1015.1" cy="132.8" r="4.95" stroke="#0000ff"/><circle cx="1012.5" cy="132.7" r="4.95" stroke="#0000ff"/><circle cx="1010.6" cy="125.4" r="4.95" stroke="#0000ff"/><circle cx="1001.1" cy="141.7" r="4.95" stroke="#0000ff"/><circle cx="998.2" cy="126.1" r="4.95" stroke="#0000ff"/><circle cx="993.8" cy="127.7" r="4.95" stroke="#0000ff"/><circle cx="959.1" cy="168.5" r="4.95" stroke="#0000ff"/><circle cx="952.3" cy="178.5" r="4.95" stroke="#0000ff"/><circle cx="952.2" cy="176.7" r="4.95" stroke="#0000ff"/><circle cx="972.2" cy="178.4" r="4.95" stroke="#0000ff"/><circle cx="944.5" cy="161.8" r="4.95" stroke="#0000ff"/><circle cx="952.6" cy="175.7" r="4.95" stroke="#0000ff"/><circle cx="958.1" cy="161.3" r="4.95" stroke="#0000ff"/><circle cx="946.9" cy="180.9" r="4.95" stroke="#0000ff"/><circle cx="1079.9" cy="170.3" r="4.95" stroke="#ff0000"/><circle cx="1039.0" cy="151.0" r="4.95" stroke="#ff0000"/><circle cx="1034.4" cy="166.3" r="4.95" stroke="#ff0000"/><circle cx="1044.4" cy="164.5" r="4.95" stroke="#ff0000"/><circle cx="1083.2" cy="152.3" r="4.95" stroke="#ff0000"/><circle cx="1070.7" cy="161.2" r="4.95" stroke="#ff0000"/><circle cx="1074.8" cy="171.3" r="4.95" stroke="#ff0000"/><circle cx="1040.7" cy="179.8" r="4.95" stroke="#ff0000"/><circle cx="1203.9" cy="162.8" r="4.95" stroke="#0000ff"/><circle cx="1207.8" cy="174.4" r="4.95" stroke="#ff0000"/><circle cx="1219.4" cy="186.7" r="4.95" stroke="#ff0000"/><circle cx="1236.1" cy="192.2" r="4.95" stroke="#ff0000"/><circle cx="1224.4" cy="196.7" r="4.95" stroke="#0000ff"/><circle cx="1209.4" cy="184.4" r="4.95" stroke="#0000ff"/><circle cx="1208.3" cy="207.8" r="4.95" stroke="#0000ff"/><circle cx="1225.0" cy="214.4" r="4.95" stroke="#0000ff"/><circle cx="1227.2" cy="223.3" r="4.95" stroke="#0000ff"/><circle cx="1245.0" cy="214.4" r="4.95" stroke="#ff0000"/><circle cx="1243.9" cy="225.6" r="4.95" stroke="#ff0000"/><circle cx="1233.9" cy="224.4" r="4.95" stroke="#ff0000"/><circle cx="1201.7" cy="222.2" r="4.95" stroke="#ff0000"/><circle cx="1217.2" cy="224.4" r="4.95" stroke="#ff0000"/><circle cx="674.4" cy="253.3" r="4.95" stroke="#0000ff"/><circle cx="679.3" cy="301.6" r="4.95" stroke="#0000ff"/><circle cx="685.1" cy="331.6" r="4.95" stroke="#0000ff"/><circle cx="692.2" cy="342.9" r="4.95" stroke="#0000ff"/><circle cx="695.6" cy="287.3" r="4.95" stroke="#ff0000"/><circle cx="691.1" cy="404.0" r="4.95" stroke="#ff0000"/><circle cx="701.6" cy="394.0" r="4.95" stroke="#ff0000"/><circle cx="700.0" cy="233.3" r="4.95" stroke="#0000ff"/><circle cx="700.0" cy="246.7" r="4.95" stroke="#ff0000"/><circle cx="701.1" cy="242.2" r="4.95" stroke="#ff0000"/><circle cx="714.4" cy="250.0" r="4.95" stroke="#0000ff"/><circle cx="751.1" cy="230.0" r="4.95" stroke="#ff0000"/><circle cx="734.0" cy="316.0" r="4.95" stroke="#0000ff"/><circle cx="745.6" cy="321.1" r="4.95" stroke="#ff0000"/><circle cx="734.0" cy="294.4" r="4.95" stroke="#0000ff"/><circle cx="742.2" cy="300.7" r="4.95" stroke="#0000ff"/><circle cx="751.1" cy="305.1" r="4.95" stroke="#0000ff"/><circle cx="728.9" cy="346.7" r="4.95" stroke="#ff0000"/><circle cx="721.6" cy="363.8" r="4.95" stroke="#ff0000"/><circle cx="757.8" cy="410.0" r="4.95" stroke="#0000ff"/><circle cx="765.6" cy="380.0" r="4.95" stroke="#0000ff"/><circle cx="768.4" cy="328.9" r="4.95" stroke="#0000ff"/><circle cx="778.4" cy="333.3" r="4.95" stroke="#0000ff"/><circle cx="780.4" cy="338.9" r="4.95" stroke="#0000ff"/><circle cx="754.9" cy="258.4" r="4.95" stroke="#ff0000"/><circle cx="759.6" cy="271.1" r="4.95" stroke="#ff0000"/><circle cx="758.4" cy="280.0" r="4.95" stroke="#ff0000"/><circle cx="761.6" cy="290.4" r="4.95" stroke="#ff0000"/><circle cx="763.3" cy="300.0" r="4.95" stroke="#ff0000"/><circle cx="771.1" cy="284.4" r="4.95" stroke="#ff0000"/><circle cx="772.2" cy="303.3" r="4.95" stroke="#ff0000"/><circle cx="764.0" cy="248.9" r="4.95" stroke="#0000ff"/><circle cx="768.9" cy="243.3" r="4.95" stroke="#0000ff"/><circle cx="771.8" cy="275.1" r="4.95" stroke="#0000ff"/><circle cx="783.3" cy="250.7" r="4.95" stroke="#0000ff"/><circle cx="785.6" cy="262.2" r="4.95" stroke="#ff0000"/><circle cx="791.6" cy="260.0" r="4.95" stroke="#ff0000"/><circle cx="788.2" cy="281.6" r="4.95" stroke="#0000ff"/><circle cx="791.6" cy="302.2" r="4.95" stroke="#ff0000"/><circle cx="797.8" cy="278.9" r="4.95" stroke="#ff0000"/><circle cx="811.1" cy="263.3" r="4.95" stroke="#0000ff"/><circle cx="813.3" cy="267.8" r="4.95" stroke="#0000ff"/><circle cx="806.2" cy="278.9" r="4.95" stroke="#0000ff"/><circle cx="817.8" cy="278.4" r="4.95" stroke="#0000ff"/><circle cx="822.9" cy="329.6" r="4.95" stroke="#0000ff"/><circle cx="810.2" cy="378.9" r="4.95" stroke="#0000ff"/><circle cx="832.7" cy="371.6" r="4.95" stroke="#0000ff"/><circle cx="830.4" cy="390.0" r="4.95" stroke="#0000ff"/><circle cx="852.9" cy="388.9" r="4.95" stroke="#0000ff"/><circle cx="853.6" cy="311.1" r="4.95" stroke="#0000ff"/><circle cx="856.7" cy="335.6" r="4.95" stroke="#ff0000"/><circle cx="842.7" cy="343.8" r="4.95" stroke="#ff0000"/><circle cx="849.3" cy="346.7" r="4.95" stroke="#0000ff"/><circle cx="862.2" cy="358.9" r="4.95" stroke="#0000ff"/><circle cx="858.2" cy="246.7" r="4.95" stroke="#0000ff"/><circle cx="853.3" cy="231.1" r="4.95" stroke="#ff0000"/><circle cx="880.4" cy="231.1" r="4.95" stroke="#0000ff"/><circle cx="880.4" cy="240.4" r="4.95" stroke="#ff0000"/><circle cx="890.0" cy="296.7" r="4.95" stroke="#ff0000"/><circle cx="896.7" cy="266.7" r="4.95" stroke="#0000ff"/><circle cx="894.4" cy="343.8" r="4.95" stroke="#0000ff"/><circle cx="896.7" cy="230.0" r="4.95" stroke="#0000ff"/><circle cx="900.0" cy="240.0" r="4.95" stroke="#0000ff"/><circle cx="906.7" cy="240.0" r="4.95" stroke="#0000ff"/><circle cx="911.1" cy="240.0" r="4.95" stroke="#0000ff"/><circle cx="921.1" cy="241.1" r="4.95" stroke="#0000ff"/><circle cx="922.2" cy="246.7" r="4.95" stroke="#0000ff"/><circle cx="915.6" cy="257.8" r="4.95" stroke="#0000ff"/><circle cx="910.0" cy="264.4" r="4.95" stroke="#0000ff"/><circle cx="900.0" cy="266.7" r="4.95" stroke="#0000ff"/><circle cx="951.1" cy="234.4" r="4.95" stroke="#0000ff"/><circle cx="922.2" cy="282.2" r="4.95" stroke="#0000ff"/><circle cx="986.7" cy="236.7" r="4.95" stroke="#0000ff"/><circle cx="988.9" cy="243.3" r="4.95" stroke="#ff0000"/><circle cx="1006.7" cy="238.4" r="4.95" stroke="#ff0000"/><circle cx="1014.4" cy="240.0" r="4.95" stroke="#0000ff"/><circle cx="1020.0" cy="231.1" r="4.95" stroke="#0000ff"/><circle cx="983.3" cy="267.8" r="4.95" stroke="#0000ff"/><circle cx="976.7" cy="273.3" r="4.95" stroke="#ff0000"/><circle cx="992.2" cy="273.3" r="4.95" stroke="#0000ff"/><circle cx="967.8" cy="287.3" r="4.95" stroke="#ff0000"/><circle cx="987.8" cy="286.7" r="4.95" stroke="#ff0000"/><circle cx="992.9" cy="298.4" r="4.95" stroke="#ff0000"/><circle cx="983.3" cy="309.6" r="4.95" stroke="#ff0000"/><circle cx="991.1" cy="320.0" r="4.95" stroke="#0000ff"/><circle cx="953.3" cy="307.3" r="4.95" stroke="#0000ff"/><circle cx="926.7" cy="317.1" r="4.95" stroke="#0000ff"/><circle cx="928.9" cy="338.2" r="4.95" stroke="#ff0000"/><circle cx="960.4" cy="336.2" r="4.95" stroke="#0000ff"/><circle cx="914.4" cy="350.0" r="4.95" stroke="#0000ff"/><circle cx="911.1" cy="358.9" r="4.95" stroke="#0000ff"/><circle cx="900.0" cy="343.3" r="4.95" stroke="#0000ff"/><circle cx="968.9" cy="370.4" r="4.95" stroke="#0000ff"/><circle cx="991.6" cy="362.2" r="4.95" stroke="#0000ff"/><circle cx="998.9" cy="379.3" r="4.95" stroke="#0000ff"/><circle cx="1011.1" cy="384.4" r="4.95" stroke="#ff0000"/><circle cx="1020.0" cy="364.0" r="4.95" stroke="#0000ff"/><circle cx="1012.2" cy="284.4" r="4.95" stroke="#ff0000"/><circle cx="1018.9" cy="258.9" r="4.95" stroke="#0000ff"/><circle cx="1030.0" cy="257.8" r="4.95" stroke="#0000ff"/><circle cx="1034.4" cy="255.6" r="4.95" stroke="#0000ff"/><circle cx="1042.2" cy="256.7" r="4.95" stroke="#ff0000"/><circle cx="1038.9" cy="243.3" r="4.95" stroke="#ff0000"/><circle cx="1054.4" cy="251.1" r="4.95" stroke="#ff0000"/><circle cx="1035.6" cy="277.8" r="4.95" stroke="#0000ff"/><circle cx="1043.3" cy="271.1" r="4.95" stroke="#ff0000"/><circle cx="1047.8" cy="281.1" r="4.95" stroke="#ff0000"/><circle cx="1045.6" cy="285.6" r="4.95" stroke="#0000ff"/><circle cx="1060.0" cy="271.1" r="4.95" stroke="#ff0000"/><circle cx="1060.0" cy="270.0" r="4.95" stroke="#0000ff"/><circle cx="1063.3" cy="285.6" r="4.95" stroke="#ff0000"/><circle cx="1066.2" cy="287.8" r="4.95" stroke="#ff0000"/><circle cx="1057.8" cy="288.9" r="4.95" stroke="#ff0000"/><circle cx="1028.9" cy="288.9" r="4.95" stroke="#0000ff"/><circle cx="1027.8" cy="296.7" r="4.95" stroke="#0000ff"/><circle cx="1072.2" cy="263.3" r="4.95" stroke="#ff0000"/><circle cx="1075.6" cy="274.4" r="4.95" stroke="#ff0000"/><circle cx="1071.1" cy="234.4" r="4.95" stroke="#0000ff"/><circle cx="1058.9" cy="232.2" r="4.95" stroke="#0000ff"/><circle cx="1080.0" cy="233.3" r="4.95" stroke="#ff0000"/><circle cx="1085.6" cy="234.4" r="4.95" stroke="#ff0000"/><circle cx="1076.7" cy="254.4" r="4.95" stroke="#0000ff"/><circle cx="1084.4" cy="258.9" r="4.95" stroke="#0000ff"/><circle cx="1090.0" cy="246.7" r="4.95" stroke="#0000ff"/><circle cx="1096.7" cy="250.0" r="4.95" stroke="#0000ff"/><circle cx="1100.0" cy="246.7" r="4.95" stroke="#0000ff"/><circle cx="1082.2" cy="271.1" r="4.95" stroke="#0000ff"/><circle cx="1087.8" cy="272.2" r="4.95" stroke="#0000ff"/><circle cx="1086.7" cy="284.4" r="4.95" stroke="#0000ff"/><circle cx="1074.4" cy="251.1" r="4.95" stroke="#ff0000"/><circle cx="1104.4" cy="234.4" r="4.95" stroke="#ff0000"/><circle cx="1116.7" cy="238.9" r="4.95" stroke="#0000ff"/><circle cx="1124.4" cy="238.9" r="4.95" stroke="#ff0000"/><circle cx="1124.4" cy="248.9" r="4.95" stroke="#0000ff"/><circle cx="1057.8" cy="308.9" r="4.95" stroke="#0000ff"/><circle cx="1062.2" cy="313.3" r="4.95" stroke="#0000ff"/><circle cx="1056.7" cy="313.3" r="4.95" stroke="#ff0000"/><circle cx="1074.4" cy="312.2" r="4.95" stroke="#0000ff"/><circle cx="1076.7" cy="320.0" r="4.95" stroke="#ff0000"/><circle cx="1074.0" cy="323.3" r="4.95" stroke="#0000ff"/><circle cx="1108.9" cy="297.8" r="4.95" stroke="#ff0000"/><circle cx="1115.6" cy="280.0" r="4.95" stroke="#0000ff"/><circle cx="1115.1" cy="290.0" r="4.95" stroke="#0000ff"/><circle cx="1096.7" cy="305.1" r="4.95" stroke="#ff0000"/><circle cx="1104.4" cy="312.2" r="4.95" stroke="#ff0000"/><circle cx="1110.0" cy="318.9" r="4.95" stroke="#ff0000"/><circle cx="1117.8" cy="310.0" r="4.95" stroke="#ff0000"/><circle cx="1125.6" cy="311.1" r="4.95" stroke="#0000ff"/><circle cx="1127.8" cy="318.9" r="4.95" stroke="#0000ff"/><circle cx="1120.0" cy="323.3" r="4.95" stroke="#0000ff"/><circle cx="1118.9" cy="331.1" r="4.95" stroke="#0000ff"/><circle cx="1117.8" cy="343.3" r="4.95" stroke="#0000ff"/><circle cx="1113.3" cy="351.1" r="4.95" stroke="#0000ff"/><circle cx="1128.9" cy="293.3" r="4.95" stroke="#ff0000"/><circle cx="1134.4" cy="294.0" r="4.95" stroke="#ff0000"/><circle cx="1143.3" cy="298.9" r="4.95" stroke="#0000ff"/><circle cx="1133.3" cy="267.8" r="4.95" stroke="#ff0000"/><circle cx="1151.1" cy="252.2" r="4.95" stroke="#ff0000"/><circle cx="1157.8" cy="234.4" r="4.95" stroke="#0000ff"/><circle cx="1147.8" cy="234.4" r="4.95" stroke="#ff0000"/><circle cx="1140.0" cy="230.0" r="4.95" stroke="#ff0000"/><circle cx="1158.9" cy="262.2" r="4.95" stroke="#0000ff"/><circle cx="1157.8" cy="276.7" r="4.95" stroke="#0000ff"/><circle cx="1151.1" cy="270.0" r="4.95" stroke="#ff0000"/><circle cx="1162.2" cy="294.4" r="4.95" stroke="#0000ff"/><circle cx="1163.3" cy="301.1" r="4.95" stroke="#ff0000"/><circle cx="1147.8" cy="317.8" r="4.95" stroke="#ff0000"/><circle cx="1166.7" cy="317.8" r="4.95" stroke="#ff0000"/><circle cx="1153.3" cy="332.2" r="4.95" stroke="#0000ff"/><circle cx="1155.6" cy="338.9" r="4.95" stroke="#ff0000"/><circle cx="1157.8" cy="346.7" r="4.95" stroke="#ff0000"/><circle cx="1160.0" cy="351.1" r="4.95" stroke="#ff0000"/><circle cx="1142.2" cy="346.7" r="4.95" stroke="#ff0000"/><circle cx="1174.4" cy="243.3" r="4.95" stroke="#0000ff"/><circle cx="1182.2" cy="241.1" r="4.95" stroke="#0000ff"/><circle cx="1185.6" cy="237.8" r="4.95" stroke="#0000ff"/><circle cx="1177.8" cy="236.7" r="4.95" stroke="#0000ff"/><circle cx="1176.7" cy="256.7" r="4.95" stroke="#0000ff"/><circle cx="1185.6" cy="255.6" r="4.95" stroke="#0000ff"/><circle cx="1177.8" cy="266.7" r="4.95" stroke="#0000ff"/><circle cx="1181.1" cy="274.4" r="4.95" stroke="#0000ff"/><circle cx="1187.8" cy="276.7" r="4.95" stroke="#ff0000"/><circle cx="1193.3" cy="265.6" r="4.95" stroke="#0000ff"/><circle cx="1197.8" cy="276.7" r="4.95" stroke="#ff0000"/><circle cx="1197.8" cy="261.1" r="4.95" stroke="#ff0000"/><circle cx="1193.3" cy="323.3" r="4.95" stroke="#0000ff"/><circle cx="1183.3" cy="339.3" r="4.95" stroke="#0000ff"/><circle cx="1171.6" cy="370.0" r="4.95" stroke="#0000ff"/><circle cx="1172.2" cy="397.8" r="4.95" stroke="#0000ff"/><circle cx="1179.6" cy="397.8" r="4.95" stroke="#0000ff"/><circle cx="1151.1" cy="392.2" r="4.95" stroke="#ff0000"/><circle cx="1147.8" cy="405.6" r="4.95" stroke="#ff0000"/><circle cx="1045.6" cy="341.1" r="4.95" stroke="#0000ff"/><circle cx="1012.2" cy="341.1" r="4.95" stroke="#ff0000"/><circle cx="1026.7" cy="345.6" r="4.95" stroke="#ff0000"/><circle cx="1036.0" cy="358.4" r="4.95" stroke="#ff0000"/><circle cx="1053.3" cy="357.8" r="4.95" stroke="#ff0000"/><circle cx="1062.2" cy="357.8" r="4.95" stroke="#0000ff"/><circle cx="1065.6" cy="350.0" r="4.95" stroke="#0000ff"/><circle cx="1079.6" cy="344.4" r="4.95" stroke="#0000ff"/><circle cx="1081.1" cy="354.4" r="4.95" stroke="#0000ff"/><circle cx="1094.4" cy="347.8" r="4.95" stroke="#0000ff"/><circle cx="1106.7" cy="360.7" r="4.95" stroke="#ff0000"/><circle cx="1113.3" cy="371.8" r="4.95" stroke="#ff0000"/><circle cx="1117.8" cy="386.7" r="4.95" stroke="#ff0000"/><circle cx="1092.2" cy="377.8" r="4.95" stroke="#0000ff"/><circle cx="1102.2" cy="390.0" r="4.95" stroke="#ff0000"/><circle cx="1094.4" cy="395.6" r="4.95" stroke="#ff0000"/><circle cx="1132.9" cy="366.0" r="4.95" stroke="#ff0000"/><circle cx="1068.9" cy="392.2" r="4.95" stroke="#0000ff"/><circle cx="1059.6" cy="399.3" r="4.95" stroke="#0000ff"/><circle cx="1037.3" cy="416.2" r="4.95" stroke="#0000ff"/><circle cx="1085.6" cy="430.0" r="4.95" stroke="#0000ff"/><circle cx="1164.4" cy="430.0" r="4.95" stroke="#ff0000"/><circle cx="1192.2" cy="431.1" r="4.95" stroke="#ff0000"/><circle cx="1209.6" cy="235.6" r="4.95" stroke="#ff0000"/><circle cx="1216.3" cy="238.8" r="4.95" stroke="#0000ff"/><circle cx="1209.6" cy="245.2" r="4.95" stroke="#ff0000"/><circle cx="1224.4" cy="247.4" r="4.95" stroke="#0000ff"/><circle cx="1231.1" cy="236.3" r="4.95" stroke="#0000ff"/><circle cx="1234.8" cy="245.9" r="4.95" stroke="#0000ff"/><circle cx="1248.9" cy="245.2" r="4.95" stroke="#ff0000"/><circle cx="1254.1" cy="234.8" r="4.95" stroke="#0000ff"/><circle cx="1234.1" cy="257.0" r="4.95" stroke="#0000ff"/><circle cx="1254.1" cy="259.3" r="4.95" stroke="#0000ff"/><circle cx="1248.1" cy="251.9" r="4.95" stroke="#0000ff"/><circle cx="1227.4" cy="267.4" r="4.95" stroke="#0000ff"/><circle cx="1243.7" cy="271.9" r="4.95" stroke="#0000ff"/><circle cx="1233.3" cy="279.3" r="4.95" stroke="#0000ff"/><circle cx="1214.1" cy="274.1" r="4.95" stroke="#ff0000"/><circle cx="1200.7" cy="276.3" r="4.95" stroke="#ff0000"/><circle cx="1252.1" cy="289.6" r="4.95" stroke="#0000ff"/><circle cx="1206.7" cy="292.6" r="4.95" stroke="#ff0000"/><circle cx="1206.7" cy="305.2" r="4.95" stroke="#ff0000"/><circle cx="1247.4" cy="301.5" r="4.95" stroke="#ff0000"/><circle cx="1234.1" cy="308.9" r="4.95" stroke="#0000ff"/><circle cx="1270.4" cy="303.4" r="4.95" stroke="#ff0000"/><circle cx="1271.9" cy="324.4" r="4.95" stroke="#ff0000"/><circle cx="1278.5" cy="328.9" r="4.95" stroke="#0000ff"/><circle cx="1285.9" cy="331.9" r="4.95" stroke="#0000ff"/><circle cx="1257.8" cy="331.9" r="4.95" stroke="#ff0000"/><circle cx="1264.4" cy="337.8" r="4.95" stroke="#ff0000"/><circle cx="1268.1" cy="343.0" r="4.95" stroke="#0000ff"/><circle cx="1211.1" cy="331.9" r="4.95" stroke="#0000ff"/><circle cx="1216.3" cy="338.5" r="4.95" stroke="#0000ff"/><circle cx="1216.3" cy="343.0" r="4.95" stroke="#0000ff"/><circle cx="1206.7" cy="353.3" r="4.95" stroke="#ff0000"/><circle cx="1225.9" cy="354.8" r="4.95" stroke="#ff0000"/><circle cx="1243.7" cy="355.3" r="4.95" stroke="#ff0000"/><circle cx="1280.0" cy="355.6" r="4.95" stroke="#ff0000"/><circle cx="1286.7" cy="361.5" r="4.95" stroke="#0000ff"/><circle cx="1281.5" cy="349.6" r="4.95" stroke="#0000ff"/><circle cx="1268.1" cy="371.9" r="4.95" stroke="#0000ff"/><circle cx="725.6" cy="452.2" r="4.95" stroke="#ff0000"/><circle cx="746.7" cy="456.7" r="4.95" stroke="#0000ff"/><circle cx="764.9" cy="445.1" r="4.95" stroke="#0000ff"/><circle cx="752.2" cy="489.6" r="4.95" stroke="#ff0000"/><circle cx="725.1" cy="508.9" r="4.95" stroke="#ff0000"/><circle cx="853.8" cy="454.9" r="4.95" stroke="#0000ff"/><circle cx="826.2" cy="505.1" r="4.95" stroke="#ff0000"/><circle cx="773.3" cy="568.9" r="4.95" stroke="#0000ff"/><circle cx="765.1" cy="599.3" r="4.95" stroke="#0000ff"/><circle cx="627.1" cy="588.9" r="4.95" stroke="#0000ff"/><circle cx="831.1" cy="594.4" r="4.95" stroke="#ff0000"/><circle cx="854.9" cy="591.8" r="4.95" stroke="#0000ff"/><circle cx="1065.6" cy="437.3" r="4.95" stroke="#ff0000"/><circle cx="1035.1" cy="474.4" r="4.95" stroke="#0000ff"/><circle cx="1066.7" cy="478.9" r="4.95" stroke="#ff0000"/><circle cx="1194.4" cy="446.7" r="4.95" stroke="#ff0000"/><circle cx="1162.7" cy="502.2" r="4.95" stroke="#ff0000"/><circle cx="958.2" cy="557.8" r="4.95" stroke="#ff0000"/><circle cx="1074.9" cy="564.4" r="4.95" stroke="#ff0000"/><circle cx="1176.2" cy="557.1" r="4.95" stroke="#ff0000"/><circle cx="1112.2" cy="590.0" r="4.95" stroke="#ff0000"/><circle cx="1207.9" cy="426.4" r="4.95" stroke="#ff0000"/><circle cx="1240.0" cy="414.4" r="4.95" stroke="#ff0000"/><circle cx="1269.2" cy="422.2" r="4.95" stroke="#0000ff"/><circle cx="1258.5" cy="475.6" r="4.95" stroke="#ff0000"/><circle cx="1253.8" cy="491.6" r="4.95" stroke="#ff0000"/><circle cx="626.1" cy="588.8" r="4.95" stroke="#0000ff"/><circle cx="791.1" cy="669.5" r="4.95" stroke="#0000ff"/><circle cx="1053.2" cy="659.0" r="4.95" stroke="#ff0000"/><circle cx="1122.3" cy="685.3" r="4.95" stroke="#ff0000"/><circle cx="1028.1" cy="841.6" r="4.95" stroke="#ff0000"/><circle cx="1028.1" cy="96.3" r="4.95" stroke="#ff0000"/><circle cx="1018.5" cy="112.6" r="4.95" stroke="#ff0000"/><circle cx="1020.0" cy="111.1" r="4.95" stroke="#0000ff"/><circle cx="664.0" cy="240.0" r="4.95" stroke="#0000ff"/><circle cx="662.0" cy="249.0" r="4.95" stroke="#0000ff"/><circle cx="700.0" cy="232.0" r="4.95" stroke="#0000ff"/><circle cx="1046.7" cy="76.7" r="4.95" stroke="#ff0000"/><circle cx="1057.8" cy="82.2" r="4.95" stroke="#ff0000"/><circle cx="1071.1" cy="86.7" r="4.95" stroke="#ff0000"/><circle cx="1113.3" cy="112.2" r="4.95" stroke="#ff0000"/><circle cx="1095.6" cy="96.7" r="4.95" stroke="#0000ff"/><circle cx="1111.1" cy="105.6" r="4.95" stroke="#0000ff"/></g>
<path d="M568.7,392.4h16.6v16.6h-16.6zM543.0,415.7h16.6v16.6h-16.6zM543.7,494.4h16.6v16.6h-16.6zM566.0,663.4h16.6v16.6h-16.6zM654.2,231.7h16.6v16.6h-16.6zM651.7,240.2h16.6v16.6h-16.6zM627.2,260.7h16.6v16.6h-16.6zM867.3,48.8h16.6v16.6h-16.6zM828.4,132.4h16.6v16.6h-16.6zM842.8,123.9h16.6v16.6h-16.6zM858.4,119.0h16.6v16.6h-16.6zM873.9,118.4h16.6v16.6h-16.6zM889.5,106.1h16.6v16.6h-16.6zM862.8,143.5h16.6v16.6h-16.6zM771.3,154.6h16.6v16.6h-16.6zM689.5,210.6h16.6v16.6h-16.6zM690.6,217.3h16.6v16.6h-16.6zM896.1,106.1h16.6v16.6h-16.6zM917.9,97.9h16.6v16.6h-16.6zM933.9,126.1h16.6v16.6h-16.6zM1053.9,113.9h16.6v16.6h-16.6zM1075.0,123.9h16.6v16.6h-16.6zM1029.0,124.6h16.6v16.6h-16.6zM984.6,155.0h16.6v16.6h-16.6zM1062.8,169.5h16.6v16.6h-16.6zM1056.1,177.3h16.6v16.6h-16.6zM1057.3,195.0h16.6v16.6h-16.6zM1109.5,176.1h16.6v16.6h-16.6zM1125.0,111.7h16.6v16.6h-16.6zM1149.5,126.1h16.6v16.6h-16.6zM1142.8,140.6h16.6v16.6h-16.6zM1171.7,163.9h16.6v16.6h-16.6zM1145.0,177.3h16.6v16.6h-16.6zM1180.6,177.3h16.6v16.6h-16.6zM1156.1,205.7h16.6v16.6h-16.6zM1182.8,205.7h16.6v16.6h-16.6zM896.1,199.5h16.6v16.6h-16.6zM961.7,62.8h16.6v16.6h-16.6zM972.8,70.6h16.6v16.6h-16.6zM982.8,75.0h16.6v16.6h-16.6zM992.8,76.1h16.6v16.6h-16.6zM996.1,76.1h16.6v16.6h-16.6zM1015.0,71.7h16.6v16.6h-16.6zM963.9,86.1h16.6v16.6h-16.6zM1019.5,88.4h16.6v16.6h-16.6zM1010.6,102.8h16.6v16.6h-16.6zM1211.1,178.4h16.6v16.6h-16.6zM1200.0,199.5h16.6v16.6h-16.6zM1188.9,168.4h16.6v16.6h-16.6zM691.7,225.0h16.6v16.6h-16.6zM725.7,307.7h16.6v16.6h-16.6zM822.1,381.7h16.6v16.6h-16.6zM1171.3,389.5h16.6v16.6h-16.6zM1240.6,236.9h16.6v16.6h-16.6zM1262.1,295.1h16.6v16.6h-16.6zM1235.4,347.0h16.6v16.6h-16.6zM1273.2,348.4h16.6v16.6h-16.6zM756.8,591.0h16.6v16.6h-16.6zM1245.5,483.3h16.6v16.6h-16.6zM976.1,68.4h16.6v16.6h-16.6zM987.3,75.0h16.6v16.6h-16.6zM965.0,83.9h16.6v16.6h-16.6zM996.1,77.3h16.6v16.6h-16.6z" fill="none" stroke="#000" stroke-width="3.5"/>
<rect x="197.5" y="36.4" width="436" height="164.2" rx="11" ry="11" fill="#fff" fill-opacity="0.8" stroke="#cccccc" stroke-opacity="0.8" stroke-width="3"/>
</g>
<rect x="171.5" y="11.5" width="1168.0" height="870.0" fill="none" stroke="#000" stroke-width="2.7"/>
<path d="M171.5,844.71h-6M171.5,806.07h-6M171.5,778.65h-6M171.5,757.38h-6M171.5,740.00h-6M171.5,725.31h-6M171.5,712.58h-6M171.5,701.35h-6M171.5,691.31h11M1339.5,691.31h-11M171.5,625.24h-6M171.5,586.60h-6M171.5,559.18h-6M171.5,537.91h-6M171.5,520.53h-6M171.5,505.84h-6M171.5,493.11h-6M171.5,481.88h-6M171.5,471.84h11M1339.5,471.84h-11M171.5,405.77h-6M171.5,367.13h-6M171.5,339.71h-6M171.5,318.44h-6M171.5,301.06h-6M171.5,286.37h-6M171.5,273.64h-6M171.5,262.41h-6M171.5,252.37h11M1339.5,252.37h-11M171.5,186.30h-6M171.5,147.66h-6M171.5,120.24h-6M171.5,98.97h-6M171.5,81.59h-6M171.5,66.90h-6M171.5,54.17h-6M171.5,42.94h-6M171.5,32.90h11M1339.5,32.90h-11" stroke="#000" stroke-width="2.6" fill="none"/>
<path d="M231.55,881.5v6M505.11,881.5v6M699.20,881.5v6M849.75,881.5v6M972.76,881.5v6M1076.76,881.5v6M1166.85,881.5v6M1246.32,881.5v6M1317.40,881.5v-11M1317.40,11.5v11" stroke="#000" stroke-width="2.6" fill="none"/>
<text x="86.20" y="55.40" font-family="'Liberation Serif', serif" font-size="52.5">10</text>
<text x="138.10" y="23.80" font-family="'Liberation Serif', serif" font-size="37">0</text>
<text x="66.60" y="274.87" font-family="'Liberation Serif', serif" font-size="52.5">10</text>
<text x="117.10" y="243.27" font-family="'Liberation Serif', serif" font-size="37">−1</text>
<text x="66.60" y="494.34" font-family="'Liberation Serif', serif" font-size="52.5">10</text>
<text x="117.10" y="462.74" font-family="'Liberation Serif', serif" font-size="37">−2</text>
<text x="66.60" y="713.81" font-family="'Liberation Serif', serif" font-size="52.5">10</text>
<text x="117.10" y="682.21" font-family="'Liberation Serif', serif" font-size="37">−3</text>
<text x="143.75" y="948.30" font-family="'Liberation Serif', serif" font-size="53">2</text>
<text x="181.55" y="948.30" font-family="'Liberation Serif', serif" font-size="53">×</text>
<text x="221.75" y="948.30" font-family="'Liberation Serif', serif" font-size="53">10</text>
<text x="272.75" y="916.80" font-family="'Liberation Serif', serif" font-size="37">−1</text>
<text x="417.31" y="948.30" font-family="'Liberation Serif', serif" font-size="53">3</text>
<text x="455.11" y="948.30" font-family="'Liberation Serif', serif" font-size="53">×</text>
<text x="495.31" y="948.30" font-family="'Liberation Serif', serif" font-size="53">10</text>
<text x="546.31" y="916.80" font-family="'Liberation Serif', serif" font-size="37">−1</text>
<text x="611.40" y="948.30" font-family="'Liberation Serif', serif" font-size="53">4</text>
<text x="649.20" y="948.30" font-family="'Liberation Serif', serif" font-size="53">×</text>
<text x="689.40" y="948.30" font-family="'Liberation Serif', serif" font-size="53">10</text>
<text x="740.40" y="916.80" font-family="'Liberation Serif', serif" font-size="37">−1</text>
<text x="884.96" y="948.30" font-family="'Liberation Serif', serif" font-size="53">6</text>
<text x="922.76" y="948.30" font-family="'Liberation Serif', serif" font-size="53">×</text>
<text x="962.96" y="948.30" font-family="'Liberation Serif', serif" font-size="53">10</text>
<text x="1013.96" y="916.80" font-family="'Liberation Serif', serif" font-size="37">−1</text>
<text x="1279.05" y="948.30" font-family="'Liberation Serif', serif" font-size="53">10</text>
<text x="1330.05" y="916.80" font-family="'Liberation Serif', serif" font-size="37">0</text>
<circle cx="271.1" cy="76.8" r="5" fill="none" stroke="#ff0000" stroke-width="3.4"/>
<circle cx="271.1" cy="151" r="5" fill="none" stroke="#0000ff" stroke-width="3.4"/>
<text x="365.60" y="96.00" font-family="'Liberation Serif', serif" font-size="53">Ascending</text>
<text x="365.00" y="169.70" font-family="'Liberation Serif', serif" font-size="53">Descending</text>
<text x="690.30" y="1014.80" font-family="'Liberation Sans', sans-serif" font-size="54" font-style="italic" stroke="#000" stroke-width="0.3">d</text>
<text x="736.50" y="1014.80" font-family="'Liberation Serif', serif" font-size="53">(au)</text>
<g transform="translate(38.5,0) rotate(-90)">
<text x="-465.30" y="0.00" font-family="'Liberation Serif', serif" font-size="53">(au)</text>
</g>
<path d="M38.2,478L-1,495.5L38.2,513ZM34,484.9L5.3,495.6L34,506.2Z" fill="#000" fill-rule="evenodd"/>
<clipPath id="cb"><rect x="179.5" y="1085.5" width="1167.8" height="869.8"/></clipPath>
<g clip-path="url(#cb)">
<rect x="179.5" y="1637.2" width="1167.8" height="5.8" fill="#ff7f0e"/>
<path d="M179.5,1644.7H1347.3" stroke="#ff7f0e" stroke-width="3.8" stroke-dasharray="18.4 7.6" stroke-dashoffset="0.3"/>
<path d="M576.1,1085.5V1955.3" stroke="#ff7f0e" stroke-width="5"/>
<path d="M580.0,1420.3H592.7M580.0,1526.0V1534.3M924.4,1247.8V1320.0M827.8,1297.8H850.0M838.9,1262.2V1320.0M704.0,1398.4H740.4M722.9,1320.0V1512.2M900.0,1340.0V1485.6M910.4,1488.9V1520.0M910.4,1520.0V1554.4M1040.4,1211.5V1239.9M1033.7,1240.0V1389.9M1091.5,1297.8V1389.9M1259.6,1297.0V1345.9M990.7,1390.0V1469.0M1034.8,1390.0V1429.5M1065.1,1390.0V1452.3M1091.0,1390.0V1485.7" stroke="#ff0000" stroke-width="1.3" fill="none"/>
<path d="M580.0,1412.0H592.7M580.0,1386.0V1526.0M899.6,1251.1V1320.0M722.9,1264.4V1320.0M706.7,1297.8H740.4M820.4,1423.3V1442.2M827.3,1405.6H850.4M838.9,1320.0V1520.0M910.4,1320.0V1488.9M923.3,1320.0V1520.0M931.4,1730.5V1761.0M1195.4,1720.0V1745.2M1195.1,1588.1V1719.9M1168.4,1654.9V1694.4M990.7,1500.0V1514.6M1064.8,1208.5V1239.9M1033.4,1220.4V1239.9M1050.7,1232.2V1239.9M990.7,1272.6V1389.9M1040.4,1303.7V1389.9M1064.8,1296.3V1389.9M1050.7,1240.0V1287.4M1191.1,1297.0V1389.9M1205.8,1272.6V1367.1M1244.9,1310.1V1389.9M1261.7,1269.3V1370.4M990.7,1396.1V1514.5M1038.4,1390.0V1482.6M1040.2,1390.0V1470.5M1064.5,1390.0V1432.5M1244.3,1393.0V1432.5" stroke="#0000ff" stroke-width="1.3" fill="none"/>
<g fill="none" stroke-width="3.4"><circle cx="232.3" cy="1230.0" r="4.95" stroke="#0000ff"/><circle cx="232.3" cy="1266.7" r="4.95" stroke="#ff0000"/><circle cx="392.7" cy="1183.3" r="4.95" stroke="#ff0000"/><circle cx="474.0" cy="1219.3" r="4.95" stroke="#ff0000"/><circle cx="392.7" cy="1270.3" r="4.95" stroke="#0000ff"/><circle cx="396.7" cy="1314.7" r="4.95" stroke="#ff0000"/><circle cx="396.7" cy="1331.0" r="4.95" stroke="#0000ff"/><circle cx="440.0" cy="1422.7" r="4.95" stroke="#ff0000"/><circle cx="440.0" cy="1436.0" r="4.95" stroke="#0000ff"/><circle cx="580.0" cy="1412.0" r="4.95" stroke="#0000ff"/><circle cx="580.0" cy="1420.3" r="4.95" stroke="#ff0000"/><circle cx="474.3" cy="1743.3" r="4.95" stroke="#0000ff"/><circle cx="928.9" cy="1162.7" r="4.95" stroke="#ff0000"/><circle cx="867.1" cy="1175.6" r="4.95" stroke="#ff0000"/><circle cx="830.0" cy="1183.3" r="4.95" stroke="#ff0000"/><circle cx="830.0" cy="1180.4" r="4.95" stroke="#0000ff"/><circle cx="818.4" cy="1204.4" r="4.95" stroke="#ff0000"/><circle cx="903.3" cy="1208.9" r="4.95" stroke="#0000ff"/><circle cx="864.4" cy="1213.8" r="4.95" stroke="#ff0000"/><circle cx="873.3" cy="1214.4" r="4.95" stroke="#ff0000"/><circle cx="873.8" cy="1222.7" r="4.95" stroke="#0000ff"/><circle cx="873.3" cy="1233.8" r="4.95" stroke="#0000ff"/><circle cx="878.9" cy="1240.0" r="4.95" stroke="#0000ff"/><circle cx="925.6" cy="1211.1" r="4.95" stroke="#ff0000"/><circle cx="922.9" cy="1221.6" r="4.95" stroke="#0000ff"/><circle cx="892.2" cy="1234.9" r="4.95" stroke="#ff0000"/><circle cx="666.7" cy="1215.1" r="4.95" stroke="#0000ff"/><circle cx="662.9" cy="1224.4" r="4.95" stroke="#ff0000"/><circle cx="698.2" cy="1211.1" r="4.95" stroke="#0000ff"/><circle cx="698.2" cy="1216.7" r="4.95" stroke="#ff0000"/><circle cx="712.9" cy="1217.8" r="4.95" stroke="#ff0000"/><circle cx="730.7" cy="1213.3" r="4.95" stroke="#ff0000"/><circle cx="773.8" cy="1230.0" r="4.95" stroke="#ff0000"/><circle cx="825.1" cy="1240.0" r="4.95" stroke="#ff0000"/><circle cx="824.4" cy="1248.2" r="4.95" stroke="#0000ff"/><circle cx="836.2" cy="1252.2" r="4.95" stroke="#ff0000"/><circle cx="840.0" cy="1255.6" r="4.95" stroke="#ff0000"/><circle cx="847.8" cy="1260.0" r="4.95" stroke="#ff0000"/><circle cx="824.4" cy="1261.1" r="4.95" stroke="#ff0000"/><circle cx="868.9" cy="1253.3" r="4.95" stroke="#0000ff"/><circle cx="874.4" cy="1252.2" r="4.95" stroke="#ff0000"/><circle cx="871.1" cy="1247.8" r="4.95" stroke="#0000ff"/><circle cx="897.8" cy="1250.0" r="4.95" stroke="#ff0000"/><circle cx="895.6" cy="1264.4" r="4.95" stroke="#ff0000"/><circle cx="702.9" cy="1260.4" r="4.95" stroke="#ff0000"/><circle cx="668.2" cy="1258.4" r="4.95" stroke="#ff0000"/><circle cx="685.1" cy="1261.1" r="4.95" stroke="#ff0000"/><circle cx="662.2" cy="1267.8" r="4.95" stroke="#0000ff"/><circle cx="662.2" cy="1273.3" r="4.95" stroke="#0000ff"/><circle cx="677.1" cy="1276.7" r="4.95" stroke="#ff0000"/><circle cx="688.9" cy="1274.4" r="4.95" stroke="#0000ff"/><circle cx="690.0" cy="1284.9" r="4.95" stroke="#0000ff"/><circle cx="700.7" cy="1279.3" r="4.95" stroke="#ff0000"/><circle cx="734.4" cy="1258.2" r="4.95" stroke="#0000ff"/><circle cx="730.7" cy="1267.8" r="4.95" stroke="#0000ff"/><circle cx="758.2" cy="1251.6" r="4.95" stroke="#0000ff"/><circle cx="774.9" cy="1265.6" r="4.95" stroke="#0000ff"/><circle cx="750.0" cy="1277.8" r="4.95" stroke="#ff0000"/><circle cx="750.0" cy="1276.7" r="4.95" stroke="#0000ff"/><circle cx="738.4" cy="1286.2" r="4.95" stroke="#0000ff"/><circle cx="712.9" cy="1289.6" r="4.95" stroke="#0000ff"/><circle cx="700.7" cy="1297.1" r="4.95" stroke="#0000ff"/><circle cx="677.3" cy="1302.2" r="4.95" stroke="#0000ff"/><circle cx="722.9" cy="1297.8" r="4.95" stroke="#0000ff"/><circle cx="666.7" cy="1317.8" r="4.95" stroke="#ff0000"/><circle cx="647.3" cy="1320.0" r="4.95" stroke="#0000ff"/><circle cx="684.4" cy="1321.1" r="4.95" stroke="#0000ff"/><circle cx="790.4" cy="1278.9" r="4.95" stroke="#0000ff"/><circle cx="792.2" cy="1287.8" r="4.95" stroke="#ff0000"/><circle cx="804.4" cy="1275.6" r="4.95" stroke="#ff0000"/><circle cx="811.8" cy="1273.3" r="4.95" stroke="#0000ff"/><circle cx="831.6" cy="1275.6" r="4.95" stroke="#ff0000"/><circle cx="847.8" cy="1271.8" r="4.95" stroke="#0000ff"/><circle cx="836.2" cy="1285.1" r="4.95" stroke="#0000ff"/><circle cx="840.0" cy="1292.9" r="4.95" stroke="#0000ff"/><circle cx="852.2" cy="1288.2" r="4.95" stroke="#0000ff"/><circle cx="852.2" cy="1300.0" r="4.95" stroke="#ff0000"/><circle cx="838.9" cy="1297.8" r="4.95" stroke="#ff0000"/><circle cx="820.0" cy="1287.1" r="4.95" stroke="#ff0000"/><circle cx="866.7" cy="1276.7" r="4.95" stroke="#0000ff"/><circle cx="865.6" cy="1283.3" r="4.95" stroke="#0000ff"/><circle cx="864.4" cy="1288.9" r="4.95" stroke="#ff0000"/><circle cx="901.6" cy="1277.3" r="4.95" stroke="#0000ff"/><circle cx="910.0" cy="1271.1" r="4.95" stroke="#0000ff"/><circle cx="891.1" cy="1277.8" r="4.95" stroke="#0000ff"/><circle cx="899.6" cy="1295.1" r="4.95" stroke="#0000ff"/><circle cx="925.6" cy="1284.4" r="4.95" stroke="#ff0000"/><circle cx="804.4" cy="1298.9" r="4.95" stroke="#0000ff"/><circle cx="825.6" cy="1312.9" r="4.95" stroke="#0000ff"/><circle cx="811.8" cy="1316.7" r="4.95" stroke="#ff0000"/><circle cx="756.7" cy="1302.2" r="4.95" stroke="#ff0000"/><circle cx="758.9" cy="1310.7" r="4.95" stroke="#ff0000"/><circle cx="747.8" cy="1310.0" r="4.95" stroke="#0000ff"/><circle cx="752.9" cy="1308.9" r="4.95" stroke="#0000ff"/><circle cx="774.4" cy="1304.4" r="4.95" stroke="#ff0000"/><circle cx="781.8" cy="1313.3" r="4.95" stroke="#0000ff"/><circle cx="865.6" cy="1317.8" r="4.95" stroke="#ff0000"/><circle cx="884.4" cy="1317.8" r="4.95" stroke="#ff0000"/><circle cx="895.6" cy="1315.6" r="4.95" stroke="#0000ff"/><circle cx="907.8" cy="1315.6" r="4.95" stroke="#0000ff"/><circle cx="924.4" cy="1305.6" r="4.95" stroke="#0000ff"/><circle cx="927.8" cy="1315.6" r="4.95" stroke="#0000ff"/><circle cx="702.9" cy="1342.9" r="4.95" stroke="#0000ff"/><circle cx="726.7" cy="1350.7" r="4.95" stroke="#0000ff"/><circle cx="738.4" cy="1332.7" r="4.95" stroke="#ff0000"/><circle cx="755.1" cy="1327.3" r="4.95" stroke="#ff0000"/><circle cx="774.0" cy="1333.3" r="4.95" stroke="#0000ff"/><circle cx="782.2" cy="1336.7" r="4.95" stroke="#ff0000"/><circle cx="797.1" cy="1339.3" r="4.95" stroke="#0000ff"/><circle cx="804.9" cy="1355.6" r="4.95" stroke="#0000ff"/><circle cx="827.3" cy="1350.7" r="4.95" stroke="#0000ff"/><circle cx="689.1" cy="1378.9" r="4.95" stroke="#ff0000"/><circle cx="647.3" cy="1392.2" r="4.95" stroke="#ff0000"/><circle cx="662.7" cy="1398.2" r="4.95" stroke="#ff0000"/><circle cx="726.7" cy="1387.8" r="4.95" stroke="#ff0000"/><circle cx="722.9" cy="1398.4" r="4.95" stroke="#ff0000"/><circle cx="756.2" cy="1384.9" r="4.95" stroke="#0000ff"/><circle cx="782.2" cy="1363.3" r="4.95" stroke="#0000ff"/><circle cx="781.1" cy="1368.9" r="4.95" stroke="#0000ff"/><circle cx="781.1" cy="1377.3" r="4.95" stroke="#ff0000"/><circle cx="790.4" cy="1376.0" r="4.95" stroke="#ff0000"/><circle cx="668.4" cy="1424.0" r="4.95" stroke="#0000ff"/><circle cx="755.1" cy="1416.7" r="4.95" stroke="#0000ff"/><circle cx="781.8" cy="1430.0" r="4.95" stroke="#ff0000"/><circle cx="781.8" cy="1437.8" r="4.95" stroke="#0000ff"/><circle cx="800.4" cy="1423.8" r="4.95" stroke="#0000ff"/><circle cx="820.4" cy="1432.9" r="4.95" stroke="#0000ff"/><circle cx="818.9" cy="1446.0" r="4.95" stroke="#0000ff"/><circle cx="838.9" cy="1405.6" r="4.95" stroke="#0000ff"/><circle cx="863.3" cy="1405.6" r="4.95" stroke="#0000ff"/><circle cx="868.9" cy="1405.6" r="4.95" stroke="#0000ff"/><circle cx="857.8" cy="1413.3" r="4.95" stroke="#ff0000"/><circle cx="857.8" cy="1417.1" r="4.95" stroke="#0000ff"/><circle cx="871.1" cy="1430.7" r="4.95" stroke="#ff0000"/><circle cx="827.3" cy="1466.0" r="4.95" stroke="#ff0000"/><circle cx="868.9" cy="1460.0" r="4.95" stroke="#ff0000"/><circle cx="866.2" cy="1474.9" r="4.95" stroke="#0000ff"/><circle cx="690.4" cy="1486.7" r="4.95" stroke="#ff0000"/><circle cx="756.7" cy="1484.4" r="4.95" stroke="#0000ff"/><circle cx="800.4" cy="1487.8" r="4.95" stroke="#ff0000"/><circle cx="792.2" cy="1497.8" r="4.95" stroke="#0000ff"/><circle cx="878.2" cy="1342.9" r="4.95" stroke="#ff0000"/><circle cx="884.9" cy="1357.3" r="4.95" stroke="#0000ff"/><circle cx="898.2" cy="1341.1" r="4.95" stroke="#0000ff"/><circle cx="900.7" cy="1328.4" r="4.95" stroke="#ff0000"/><circle cx="906.2" cy="1330.7" r="4.95" stroke="#0000ff"/><circle cx="908.2" cy="1345.1" r="4.95" stroke="#ff0000"/><circle cx="918.2" cy="1333.8" r="4.95" stroke="#ff0000"/><circle cx="925.6" cy="1332.2" r="4.95" stroke="#0000ff"/><circle cx="925.6" cy="1353.8" r="4.95" stroke="#ff0000"/><circle cx="909.6" cy="1367.1" r="4.95" stroke="#ff0000"/><circle cx="918.9" cy="1372.2" r="4.95" stroke="#0000ff"/><circle cx="910.4" cy="1378.9" r="4.95" stroke="#0000ff"/><circle cx="900.0" cy="1385.1" r="4.95" stroke="#ff0000"/><circle cx="912.2" cy="1396.7" r="4.95" stroke="#0000ff"/><circle cx="905.6" cy="1395.6" r="4.95" stroke="#ff0000"/><circle cx="911.1" cy="1406.7" r="4.95" stroke="#ff0000"/><circle cx="922.9" cy="1417.1" r="4.95" stroke="#0000ff"/><circle cx="910.4" cy="1440.0" r="4.95" stroke="#ff0000"/><circle cx="925.1" cy="1465.6" r="4.95" stroke="#0000ff"/><circle cx="928.9" cy="1495.6" r="4.95" stroke="#0000ff"/><circle cx="922.9" cy="1518.9" r="4.95" stroke="#ff0000"/><circle cx="734.4" cy="1549.3" r="4.95" stroke="#ff0000"/><circle cx="781.8" cy="1563.8" r="4.95" stroke="#ff0000"/><circle cx="797.1" cy="1578.9" r="4.95" stroke="#ff0000"/><circle cx="911.6" cy="1548.4" r="4.95" stroke="#0000ff"/><circle cx="804.4" cy="1664.0" r="4.95" stroke="#ff0000"/><circle cx="831.8" cy="1663.3" r="4.95" stroke="#0000ff"/><circle cx="756.2" cy="1733.1" r="4.95" stroke="#ff0000"/><circle cx="931.4" cy="1744.7" r="4.95" stroke="#0000ff"/><circle cx="1060.2" cy="1759.4" r="4.95" stroke="#ff0000"/><circle cx="1085.5" cy="1915.1" r="4.95" stroke="#ff0000"/><circle cx="1044.8" cy="1506.7" r="4.95" stroke="#0000ff"/><circle cx="1063.6" cy="1526.7" r="4.95" stroke="#ff0000"/><circle cx="1112.2" cy="1501.5" r="4.95" stroke="#ff0000"/><circle cx="1120.7" cy="1506.7" r="4.95" stroke="#ff0000"/><circle cx="1151.1" cy="1507.6" r="4.95" stroke="#ff0000"/><circle cx="1135.6" cy="1528.9" r="4.95" stroke="#0000ff"/><circle cx="1185.7" cy="1530.4" r="4.95" stroke="#0000ff"/><circle cx="1193.6" cy="1520.3" r="4.95" stroke="#ff0000"/><circle cx="1201.8" cy="1511.2" r="4.95" stroke="#ff0000"/><circle cx="1271.7" cy="1519.1" r="4.95" stroke="#0000ff"/><circle cx="1170.5" cy="1552.5" r="4.95" stroke="#ff0000"/><circle cx="977.1" cy="1565.3" r="4.95" stroke="#ff0000"/><circle cx="1009.0" cy="1576.5" r="4.95" stroke="#0000ff"/><circle cx="1053.6" cy="1582.9" r="4.95" stroke="#ff0000"/><circle cx="1224.6" cy="1575.9" r="4.95" stroke="#ff0000"/><circle cx="1042.4" cy="1631.5" r="4.95" stroke="#ff0000"/><circle cx="1148.1" cy="1638.2" r="4.95" stroke="#ff0000"/><circle cx="1195.1" cy="1642.7" r="4.95" stroke="#0000ff"/><circle cx="1224.6" cy="1630.6" r="4.95" stroke="#ff0000"/><circle cx="1081.9" cy="1665.5" r="4.95" stroke="#0000ff"/><circle cx="1168.4" cy="1673.1" r="4.95" stroke="#0000ff"/><circle cx="1204.2" cy="1668.6" r="4.95" stroke="#ff0000"/><circle cx="946.6" cy="1143.0" r="4.95" stroke="#ff0000"/><circle cx="934.4" cy="1162.6" r="4.95" stroke="#ff0000"/><circle cx="939.6" cy="1169.3" r="4.95" stroke="#ff0000"/><circle cx="977.1" cy="1183.0" r="4.95" stroke="#0000ff"/><circle cx="970.7" cy="1187.0" r="4.95" stroke="#ff0000"/><circle cx="962.9" cy="1194.7" r="4.95" stroke="#ff0000"/><circle cx="973.4" cy="1201.1" r="4.95" stroke="#0000ff"/><circle cx="987.0" cy="1190.7" r="4.95" stroke="#ff0000"/><circle cx="990.7" cy="1192.2" r="4.95" stroke="#ff0000"/><circle cx="937.4" cy="1214.9" r="4.95" stroke="#0000ff"/><circle cx="947.0" cy="1209.7" r="4.95" stroke="#ff0000"/><circle cx="993.4" cy="1213.0" r="4.95" stroke="#0000ff"/><circle cx="998.4" cy="1224.1" r="4.95" stroke="#0000ff"/><circle cx="986.3" cy="1233.0" r="4.95" stroke="#0000ff"/><circle cx="992.2" cy="1233.7" r="4.95" stroke="#0000ff"/><circle cx="999.6" cy="1233.7" r="4.95" stroke="#ff0000"/><circle cx="958.1" cy="1238.1" r="4.95" stroke="#0000ff"/><circle cx="968.5" cy="1238.9" r="4.95" stroke="#ff0000"/><circle cx="1029.7" cy="1151.9" r="4.95" stroke="#ff0000"/><circle cx="1024.4" cy="1164.8" r="4.95" stroke="#0000ff"/><circle cx="1039.6" cy="1164.5" r="4.95" stroke="#0000ff"/><circle cx="1088.1" cy="1140.4" r="4.95" stroke="#0000ff"/><circle cx="1027.0" cy="1187.8" r="4.95" stroke="#ff0000"/><circle cx="1027.8" cy="1192.2" r="4.95" stroke="#ff0000"/><circle cx="1038.9" cy="1191.5" r="4.95" stroke="#ff0000"/><circle cx="1038.1" cy="1202.6" r="4.95" stroke="#ff0000"/><circle cx="1029.7" cy="1210.7" r="4.95" stroke="#0000ff"/><circle cx="1042.6" cy="1214.4" r="4.95" stroke="#ff0000"/><circle cx="1047.0" cy="1215.9" r="4.95" stroke="#ff0000"/><circle cx="1039.6" cy="1218.9" r="4.95" stroke="#ff0000"/><circle cx="1024.8" cy="1226.3" r="4.95" stroke="#ff0000"/><circle cx="1015.9" cy="1231.5" r="4.95" stroke="#ff0000"/><circle cx="1027.8" cy="1236.7" r="4.95" stroke="#0000ff"/><circle cx="1033.7" cy="1236.7" r="4.95" stroke="#0000ff"/><circle cx="1041.1" cy="1234.4" r="4.95" stroke="#ff0000"/><circle cx="1055.6" cy="1184.1" r="4.95" stroke="#ff0000"/><circle cx="1067.0" cy="1187.8" r="4.95" stroke="#ff0000"/><circle cx="1064.1" cy="1198.9" r="4.95" stroke="#0000ff"/><circle cx="1057.4" cy="1207.0" r="4.95" stroke="#0000ff"/><circle cx="1063.3" cy="1215.9" r="4.95" stroke="#ff0000"/><circle cx="1059.6" cy="1223.3" r="4.95" stroke="#0000ff"/><circle cx="1064.8" cy="1227.8" r="4.95" stroke="#0000ff"/><circle cx="1055.9" cy="1227.8" r="4.95" stroke="#0000ff"/><circle cx="1074.4" cy="1224.1" r="4.95" stroke="#ff0000"/><circle cx="1087.8" cy="1176.7" r="4.95" stroke="#ff0000"/><circle cx="1100.4" cy="1184.1" r="4.95" stroke="#0000ff"/><circle cx="1114.4" cy="1184.1" r="4.95" stroke="#0000ff"/><circle cx="1125.6" cy="1176.7" r="4.95" stroke="#ff0000"/><circle cx="1127.0" cy="1184.8" r="4.95" stroke="#0000ff"/><circle cx="1081.9" cy="1194.4" r="4.95" stroke="#0000ff"/><circle cx="1093.0" cy="1193.7" r="4.95" stroke="#0000ff"/><circle cx="1100.4" cy="1193.7" r="4.95" stroke="#0000ff"/><circle cx="1101.9" cy="1201.1" r="4.95" stroke="#0000ff"/><circle cx="1081.1" cy="1208.5" r="4.95" stroke="#0000ff"/><circle cx="1091.5" cy="1206.3" r="4.95" stroke="#0000ff"/><circle cx="1076.7" cy="1207.8" r="4.95" stroke="#ff0000"/><circle cx="1102.6" cy="1215.2" r="4.95" stroke="#ff0000"/><circle cx="1114.4" cy="1212.2" r="4.95" stroke="#ff0000"/><circle cx="1087.3" cy="1226.0" r="4.95" stroke="#0000ff"/><circle cx="1122.6" cy="1193.7" r="4.95" stroke="#0000ff"/><circle cx="1125.6" cy="1202.6" r="4.95" stroke="#0000ff"/><circle cx="1125.6" cy="1211.5" r="4.95" stroke="#ff0000"/><circle cx="1121.1" cy="1223.3" r="4.95" stroke="#0000ff"/><circle cx="1115.2" cy="1227.8" r="4.95" stroke="#ff0000"/><circle cx="1124.1" cy="1235.9" r="4.95" stroke="#0000ff"/><circle cx="1101.1" cy="1238.9" r="4.95" stroke="#0000ff"/><circle cx="1227.0" cy="1130.4" r="4.95" stroke="#0000ff"/><circle cx="1213.1" cy="1143.8" r="4.95" stroke="#0000ff"/><circle cx="1256.3" cy="1129.9" r="4.95" stroke="#0000ff"/><circle cx="1271.0" cy="1123.4" r="4.95" stroke="#0000ff"/><circle cx="1281.6" cy="1132.4" r="4.95" stroke="#0000ff"/><circle cx="1267.7" cy="1132.4" r="4.95" stroke="#ff0000"/><circle cx="1252.2" cy="1143.0" r="4.95" stroke="#ff0000"/><circle cx="1247.3" cy="1158.4" r="4.95" stroke="#0000ff"/><circle cx="1266.9" cy="1156.0" r="4.95" stroke="#0000ff"/><circle cx="1279.9" cy="1143.8" r="4.95" stroke="#ff0000"/><circle cx="1279.1" cy="1155.2" r="4.95" stroke="#ff0000"/><circle cx="1287.3" cy="1155.2" r="4.95" stroke="#0000ff"/><circle cx="1293.8" cy="1149.5" r="4.95" stroke="#0000ff"/><circle cx="1296.2" cy="1156.0" r="4.95" stroke="#ff0000"/><circle cx="1287.3" cy="1165.0" r="4.95" stroke="#0000ff"/><circle cx="1283.2" cy="1166.6" r="4.95" stroke="#ff0000"/><circle cx="1268.2" cy="1180.4" r="4.95" stroke="#0000ff"/><circle cx="1276.7" cy="1178.0" r="4.95" stroke="#0000ff"/><circle cx="1291.3" cy="1185.3" r="4.95" stroke="#ff0000"/><circle cx="1286.5" cy="1188.6" r="4.95" stroke="#0000ff"/><circle cx="1175.6" cy="1154.4" r="4.95" stroke="#0000ff"/><circle cx="1185.4" cy="1158.4" r="4.95" stroke="#0000ff"/><circle cx="1154.4" cy="1158.4" r="4.95" stroke="#ff0000"/><circle cx="1137.3" cy="1169.0" r="4.95" stroke="#0000ff"/><circle cx="1144.7" cy="1171.5" r="4.95" stroke="#ff0000"/><circle cx="1162.6" cy="1170.7" r="4.95" stroke="#0000ff"/><circle cx="1183.8" cy="1169.9" r="4.95" stroke="#0000ff"/><circle cx="1200.9" cy="1160.9" r="4.95" stroke="#0000ff"/><circle cx="1221.3" cy="1156.8" r="4.95" stroke="#0000ff"/><circle cx="1216.4" cy="1163.3" r="4.95" stroke="#ff0000"/><circle cx="1224.5" cy="1169.9" r="4.95" stroke="#0000ff"/><circle cx="1214.7" cy="1174.7" r="4.95" stroke="#0000ff"/><circle cx="1218.0" cy="1181.3" r="4.95" stroke="#0000ff"/><circle cx="1222.9" cy="1181.3" r="4.95" stroke="#ff0000"/><circle cx="1231.0" cy="1176.4" r="4.95" stroke="#0000ff"/><circle cx="1183.8" cy="1187.0" r="4.95" stroke="#ff0000"/><circle cx="1200.9" cy="1183.7" r="4.95" stroke="#0000ff"/><circle cx="1198.4" cy="1181.3" r="4.95" stroke="#ff0000"/><circle cx="1147.9" cy="1184.5" r="4.95" stroke="#0000ff"/><circle cx="1161.0" cy="1186.2" r="4.95" stroke="#0000ff"/><circle cx="1138.1" cy="1181.3" r="4.95" stroke="#ff0000"/><circle cx="1169.9" cy="1187.8" r="4.95" stroke="#ff0000"/><circle cx="1152.8" cy="1191.0" r="4.95" stroke="#0000ff"/><circle cx="1143.0" cy="1207.3" r="4.95" stroke="#0000ff"/><circle cx="1167.5" cy="1206.5" r="4.95" stroke="#0000ff"/><circle cx="1182.2" cy="1202.5" r="4.95" stroke="#0000ff"/><circle cx="1200.1" cy="1200.0" r="4.95" stroke="#0000ff"/><circle cx="1214.7" cy="1202.5" r="4.95" stroke="#0000ff"/><circle cx="1154.4" cy="1207.3" r="4.95" stroke="#0000ff"/><circle cx="1131.6" cy="1200.8" r="4.95" stroke="#0000ff"/><circle cx="1241.6" cy="1194.3" r="4.95" stroke="#0000ff"/><circle cx="1244.9" cy="1209.0" r="4.95" stroke="#0000ff"/><circle cx="1260.4" cy="1195.9" r="4.95" stroke="#0000ff"/><circle cx="1266.9" cy="1204.1" r="4.95" stroke="#0000ff"/><circle cx="1273.4" cy="1207.3" r="4.95" stroke="#0000ff"/><circle cx="1263.6" cy="1213.9" r="4.95" stroke="#0000ff"/><circle cx="1270.2" cy="1220.4" r="4.95" stroke="#0000ff"/><circle cx="1265.3" cy="1228.5" r="4.95" stroke="#0000ff"/><circle cx="1273.4" cy="1230.2" r="4.95" stroke="#0000ff"/><circle cx="1291.3" cy="1220.4" r="4.95" stroke="#0000ff"/><circle cx="1281.6" cy="1230.2" r="4.95" stroke="#0000ff"/><circle cx="1279.9" cy="1217.1" r="4.95" stroke="#ff0000"/><circle cx="1235.9" cy="1223.6" r="4.95" stroke="#0000ff"/><circle cx="1222.1" cy="1217.9" r="4.95" stroke="#0000ff"/><circle cx="1206.6" cy="1217.1" r="4.95" stroke="#0000ff"/><circle cx="1208.2" cy="1223.6" r="4.95" stroke="#0000ff"/><circle cx="1231.0" cy="1210.6" r="4.95" stroke="#0000ff"/><circle cx="1227.8" cy="1200.8" r="4.95" stroke="#ff0000"/><circle cx="1178.9" cy="1223.6" r="4.95" stroke="#0000ff"/><circle cx="1164.2" cy="1225.3" r="4.95" stroke="#0000ff"/><circle cx="1136.5" cy="1228.5" r="4.95" stroke="#ff0000"/><circle cx="1146.3" cy="1236.7" r="4.95" stroke="#ff0000"/><circle cx="1203.3" cy="1233.4" r="4.95" stroke="#0000ff"/><circle cx="1221.3" cy="1230.2" r="4.95" stroke="#0000ff"/><circle cx="1229.4" cy="1235.0" r="4.95" stroke="#ff0000"/><circle cx="1244.1" cy="1236.7" r="4.95" stroke="#ff0000"/><circle cx="1255.5" cy="1226.9" r="4.95" stroke="#ff0000"/><circle cx="1252.2" cy="1233.4" r="4.95" stroke="#ff0000"/><circle cx="1204.6" cy="1230.1" r="4.95" stroke="#0000ff"/><circle cx="1218.8" cy="1179.3" r="4.95" stroke="#0000ff"/><circle cx="1241.6" cy="1159.9" r="4.95" stroke="#0000ff"/><circle cx="1232.5" cy="1160.0" r="4.95" stroke="#0000ff"/><circle cx="1221.6" cy="1164.8" r="4.95" stroke="#0000ff"/><circle cx="1222.4" cy="1215.8" r="4.95" stroke="#0000ff"/><circle cx="1206.5" cy="1192.3" r="4.95" stroke="#0000ff"/><circle cx="1218.0" cy="1196.1" r="4.95" stroke="#0000ff"/><circle cx="1244.7" cy="1198.3" r="4.95" stroke="#0000ff"/><circle cx="1236.1" cy="1218.6" r="4.95" stroke="#0000ff"/><circle cx="1253.6" cy="1167.0" r="4.95" stroke="#0000ff"/><circle cx="1240.3" cy="1232.4" r="4.95" stroke="#0000ff"/><circle cx="1238.6" cy="1182.2" r="4.95" stroke="#0000ff"/><circle cx="1220.5" cy="1179.0" r="4.95" stroke="#0000ff"/><circle cx="1249.1" cy="1161.9" r="4.95" stroke="#0000ff"/><circle cx="1204.0" cy="1225.8" r="4.95" stroke="#0000ff"/><circle cx="1238.9" cy="1233.9" r="4.95" stroke="#0000ff"/><circle cx="1245.6" cy="1226.7" r="4.95" stroke="#0000ff"/><circle cx="1224.7" cy="1223.9" r="4.95" stroke="#0000ff"/><circle cx="1210.7" cy="1201.3" r="4.95" stroke="#0000ff"/><circle cx="1203.2" cy="1230.5" r="4.95" stroke="#ff0000"/><circle cx="1249.7" cy="1195.1" r="4.95" stroke="#ff0000"/><circle cx="1242.3" cy="1184.9" r="4.95" stroke="#ff0000"/><circle cx="1204.7" cy="1186.3" r="4.95" stroke="#ff0000"/><circle cx="1204.6" cy="1208.2" r="4.95" stroke="#ff0000"/><circle cx="1251.2" cy="1234.8" r="4.95" stroke="#ff0000"/><circle cx="1198.7" cy="1186.1" r="4.95" stroke="#ff0000"/><circle cx="1255.5" cy="1201.0" r="4.95" stroke="#ff0000"/><circle cx="1255.1" cy="1220.2" r="4.95" stroke="#ff0000"/><circle cx="1215.3" cy="1208.7" r="4.95" stroke="#ff0000"/><circle cx="1138.5" cy="1192.9" r="4.95" stroke="#0000ff"/><circle cx="1195.2" cy="1192.2" r="4.95" stroke="#0000ff"/><circle cx="1163.3" cy="1193.6" r="4.95" stroke="#0000ff"/><circle cx="1189.9" cy="1209.1" r="4.95" stroke="#0000ff"/><circle cx="1146.2" cy="1196.8" r="4.95" stroke="#0000ff"/><circle cx="1188.8" cy="1209.7" r="4.95" stroke="#0000ff"/><circle cx="1139.9" cy="1219.2" r="4.95" stroke="#0000ff"/><circle cx="1168.5" cy="1220.0" r="4.95" stroke="#0000ff"/><circle cx="1144.6" cy="1199.8" r="4.95" stroke="#0000ff"/><circle cx="1192.0" cy="1210.8" r="4.95" stroke="#0000ff"/><circle cx="1188.3" cy="1198.8" r="4.95" stroke="#ff0000"/><circle cx="1199.7" cy="1217.7" r="4.95" stroke="#ff0000"/><circle cx="1166.1" cy="1201.9" r="4.95" stroke="#ff0000"/><circle cx="1149.0" cy="1233.8" r="4.95" stroke="#ff0000"/><circle cx="1157.7" cy="1185.3" r="4.95" stroke="#ff0000"/><circle cx="1175.4" cy="1225.1" r="4.95" stroke="#ff0000"/><circle cx="1189.6" cy="1183.7" r="4.95" stroke="#ff0000"/><circle cx="1199.0" cy="1193.6" r="4.95" stroke="#ff0000"/><circle cx="961.1" cy="1252.6" r="4.95" stroke="#ff0000"/><circle cx="967.0" cy="1263.7" r="4.95" stroke="#0000ff"/><circle cx="955.9" cy="1268.1" r="4.95" stroke="#0000ff"/><circle cx="946.3" cy="1273.3" r="4.95" stroke="#0000ff"/><circle cx="932.2" cy="1275.6" r="4.95" stroke="#0000ff"/><circle cx="974.4" cy="1275.6" r="4.95" stroke="#ff0000"/><circle cx="975.9" cy="1277.8" r="4.95" stroke="#ff0000"/><circle cx="946.3" cy="1290.4" r="4.95" stroke="#0000ff"/><circle cx="934.4" cy="1291.1" r="4.95" stroke="#0000ff"/><circle cx="956.7" cy="1287.4" r="4.95" stroke="#ff0000"/><circle cx="986.3" cy="1244.4" r="4.95" stroke="#0000ff"/><circle cx="984.8" cy="1259.3" r="4.95" stroke="#0000ff"/><circle cx="986.3" cy="1251.9" r="4.95" stroke="#ff0000"/><circle cx="989.3" cy="1266.7" r="4.95" stroke="#0000ff"/><circle cx="990.7" cy="1269.6" r="4.95" stroke="#ff0000"/><circle cx="1005.6" cy="1254.8" r="4.95" stroke="#ff0000"/><circle cx="1020.4" cy="1248.9" r="4.95" stroke="#ff0000"/><circle cx="1023.3" cy="1263.0" r="4.95" stroke="#0000ff"/><circle cx="1013.0" cy="1277.8" r="4.95" stroke="#ff0000"/><circle cx="1033.7" cy="1269.6" r="4.95" stroke="#0000ff"/><circle cx="1038.9" cy="1248.1" r="4.95" stroke="#0000ff"/><circle cx="1045.6" cy="1254.8" r="4.95" stroke="#0000ff"/><circle cx="1051.5" cy="1254.8" r="4.95" stroke="#0000ff"/><circle cx="1047.0" cy="1271.1" r="4.95" stroke="#0000ff"/><circle cx="1026.3" cy="1284.4" r="4.95" stroke="#ff0000"/><circle cx="1027.8" cy="1292.6" r="4.95" stroke="#0000ff"/><circle cx="1016.7" cy="1294.8" r="4.95" stroke="#0000ff"/><circle cx="977.4" cy="1294.1" r="4.95" stroke="#0000ff"/><circle cx="993.0" cy="1288.9" r="4.95" stroke="#0000ff"/><circle cx="951.5" cy="1303.7" r="4.95" stroke="#0000ff"/><circle cx="956.7" cy="1300.7" r="4.95" stroke="#ff0000"/><circle cx="956.7" cy="1312.6" r="4.95" stroke="#ff0000"/><circle cx="963.3" cy="1320.0" r="4.95" stroke="#0000ff"/><circle cx="967.8" cy="1322.2" r="4.95" stroke="#0000ff"/><circle cx="967.8" cy="1314.1" r="4.95" stroke="#ff0000"/><circle cx="936.7" cy="1324.4" r="4.95" stroke="#ff0000"/><circle cx="930.0" cy="1334.8" r="4.95" stroke="#0000ff"/><circle cx="1003.3" cy="1305.2" r="4.95" stroke="#0000ff"/><circle cx="1010.0" cy="1305.2" r="4.95" stroke="#ff0000"/><circle cx="1018.9" cy="1322.2" r="4.95" stroke="#0000ff"/><circle cx="992.2" cy="1320.0" r="4.95" stroke="#0000ff"/><circle cx="995.2" cy="1327.4" r="4.95" stroke="#0000ff"/><circle cx="999.6" cy="1334.8" r="4.95" stroke="#ff0000"/><circle cx="998.1" cy="1345.2" r="4.95" stroke="#0000ff"/><circle cx="950.7" cy="1350.4" r="4.95" stroke="#ff0000"/><circle cx="956.7" cy="1357.8" r="4.95" stroke="#0000ff"/><circle cx="946.3" cy="1365.9" r="4.95" stroke="#ff0000"/><circle cx="937.4" cy="1377.0" r="4.95" stroke="#ff0000"/><circle cx="985.6" cy="1360.7" r="4.95" stroke="#ff0000"/><circle cx="992.2" cy="1360.7" r="4.95" stroke="#ff0000"/><circle cx="1016.7" cy="1359.3" r="4.95" stroke="#0000ff"/><circle cx="999.6" cy="1374.8" r="4.95" stroke="#ff0000"/><circle cx="1005.6" cy="1374.1" r="4.95" stroke="#ff0000"/><circle cx="990.7" cy="1388.1" r="4.95" stroke="#ff0000"/><circle cx="1044.8" cy="1299.3" r="4.95" stroke="#ff0000"/><circle cx="1054.4" cy="1300.7" r="4.95" stroke="#0000ff"/><circle cx="1058.1" cy="1294.1" r="4.95" stroke="#0000ff"/><circle cx="1060.4" cy="1279.3" r="4.95" stroke="#0000ff"/><circle cx="1067.8" cy="1279.3" r="4.95" stroke="#0000ff"/><circle cx="1072.2" cy="1291.1" r="4.95" stroke="#0000ff"/><circle cx="1087.0" cy="1293.3" r="4.95" stroke="#0000ff"/><circle cx="1084.1" cy="1284.4" r="4.95" stroke="#ff0000"/><circle cx="1081.1" cy="1287.4" r="4.95" stroke="#ff0000"/><circle cx="1087.8" cy="1258.5" r="4.95" stroke="#ff0000"/><circle cx="1088.5" cy="1273.3" r="4.95" stroke="#0000ff"/><circle cx="1104.8" cy="1271.1" r="4.95" stroke="#0000ff"/><circle cx="1114.4" cy="1282.2" r="4.95" stroke="#ff0000"/><circle cx="1098.1" cy="1281.5" r="4.95" stroke="#ff0000"/><circle cx="1072.2" cy="1248.9" r="4.95" stroke="#ff0000"/><circle cx="1074.4" cy="1248.1" r="4.95" stroke="#0000ff"/><circle cx="1101.1" cy="1243.0" r="4.95" stroke="#0000ff"/><circle cx="1115.9" cy="1257.8" r="4.95" stroke="#0000ff"/><circle cx="1121.1" cy="1266.7" r="4.95" stroke="#0000ff"/><circle cx="1122.6" cy="1293.3" r="4.95" stroke="#0000ff"/><circle cx="1112.2" cy="1302.2" r="4.95" stroke="#0000ff"/><circle cx="1121.1" cy="1302.2" r="4.95" stroke="#0000ff"/><circle cx="1122.6" cy="1312.6" r="4.95" stroke="#0000ff"/><circle cx="1100.4" cy="1308.1" r="4.95" stroke="#0000ff"/><circle cx="1096.7" cy="1311.1" r="4.95" stroke="#0000ff"/><circle cx="1085.6" cy="1312.6" r="4.95" stroke="#0000ff"/><circle cx="1078.1" cy="1317.0" r="4.95" stroke="#0000ff"/><circle cx="1067.8" cy="1321.5" r="4.95" stroke="#0000ff"/><circle cx="1067.8" cy="1315.6" r="4.95" stroke="#ff0000"/><circle cx="1048.5" cy="1320.7" r="4.95" stroke="#0000ff"/><circle cx="1041.1" cy="1327.4" r="4.95" stroke="#0000ff"/><circle cx="1060.4" cy="1328.9" r="4.95" stroke="#0000ff"/><circle cx="1054.4" cy="1330.4" r="4.95" stroke="#0000ff"/><circle cx="1097.4" cy="1320.0" r="4.95" stroke="#ff0000"/><circle cx="1110.0" cy="1323.0" r="4.95" stroke="#ff0000"/><circle cx="1110.0" cy="1328.1" r="4.95" stroke="#0000ff"/><circle cx="1122.6" cy="1324.4" r="4.95" stroke="#ff0000"/><circle cx="1091.5" cy="1329.6" r="4.95" stroke="#ff0000"/><circle cx="1129.3" cy="1336.3" r="4.95" stroke="#0000ff"/><circle cx="1032.2" cy="1337.0" r="4.95" stroke="#ff0000"/><circle cx="1038.9" cy="1336.3" r="4.95" stroke="#0000ff"/><circle cx="1055.9" cy="1341.5" r="4.95" stroke="#0000ff"/><circle cx="1064.8" cy="1343.0" r="4.95" stroke="#0000ff"/><circle cx="1064.1" cy="1352.6" r="4.95" stroke="#ff0000"/><circle cx="1074.4" cy="1352.6" r="4.95" stroke="#0000ff"/><circle cx="1084.1" cy="1352.6" r="4.95" stroke="#0000ff"/><circle cx="1084.1" cy="1357.0" r="4.95" stroke="#ff0000"/><circle cx="1096.7" cy="1342.2" r="4.95" stroke="#0000ff"/><circle cx="1101.9" cy="1352.6" r="4.95" stroke="#0000ff"/><circle cx="1109.3" cy="1348.9" r="4.95" stroke="#0000ff"/><circle cx="1115.2" cy="1348.1" r="4.95" stroke="#0000ff"/><circle cx="1104.8" cy="1337.0" r="4.95" stroke="#ff0000"/><circle cx="1038.9" cy="1354.1" r="4.95" stroke="#ff0000"/><circle cx="1040.4" cy="1363.7" r="4.95" stroke="#0000ff"/><circle cx="1044.1" cy="1363.7" r="4.95" stroke="#ff0000"/><circle cx="1036.7" cy="1374.8" r="4.95" stroke="#0000ff"/><circle cx="1039.6" cy="1383.7" r="4.95" stroke="#0000ff"/><circle cx="1072.2" cy="1370.4" r="4.95" stroke="#ff0000"/><circle cx="1068.5" cy="1383.0" r="4.95" stroke="#0000ff"/><circle cx="1057.4" cy="1388.9" r="4.95" stroke="#0000ff"/><circle cx="1101.1" cy="1367.4" r="4.95" stroke="#ff0000"/><circle cx="1116.7" cy="1374.1" r="4.95" stroke="#0000ff"/><circle cx="1125.6" cy="1371.9" r="4.95" stroke="#ff0000"/><circle cx="1090.7" cy="1378.5" r="4.95" stroke="#ff0000"/><circle cx="1140.6" cy="1261.2" r="4.95" stroke="#0000ff"/><circle cx="1162.6" cy="1253.0" r="4.95" stroke="#ff0000"/><circle cx="1154.4" cy="1264.4" r="4.95" stroke="#0000ff"/><circle cx="1169.1" cy="1262.8" r="4.95" stroke="#0000ff"/><circle cx="1144.7" cy="1277.5" r="4.95" stroke="#ff0000"/><circle cx="1165.0" cy="1279.1" r="4.95" stroke="#ff0000"/><circle cx="1154.4" cy="1277.5" r="4.95" stroke="#0000ff"/><circle cx="1156.1" cy="1288.9" r="4.95" stroke="#0000ff"/><circle cx="1146.3" cy="1290.5" r="4.95" stroke="#0000ff"/><circle cx="1136.5" cy="1288.9" r="4.95" stroke="#0000ff"/><circle cx="1139.8" cy="1297.0" r="4.95" stroke="#0000ff"/><circle cx="1134.9" cy="1306.8" r="4.95" stroke="#0000ff"/><circle cx="1154.4" cy="1306.8" r="4.95" stroke="#ff0000"/><circle cx="1149.6" cy="1313.3" r="4.95" stroke="#0000ff"/><circle cx="1144.7" cy="1316.6" r="4.95" stroke="#ff0000"/><circle cx="1178.9" cy="1248.1" r="4.95" stroke="#0000ff"/><circle cx="1183.8" cy="1254.7" r="4.95" stroke="#0000ff"/><circle cx="1193.6" cy="1253.0" r="4.95" stroke="#0000ff"/><circle cx="1193.6" cy="1262.8" r="4.95" stroke="#0000ff"/><circle cx="1178.9" cy="1269.3" r="4.95" stroke="#0000ff"/><circle cx="1185.4" cy="1272.6" r="4.95" stroke="#0000ff"/><circle cx="1196.8" cy="1274.2" r="4.95" stroke="#ff0000"/><circle cx="1185.4" cy="1280.7" r="4.95" stroke="#ff0000"/><circle cx="1170.7" cy="1293.8" r="4.95" stroke="#0000ff"/><circle cx="1178.9" cy="1298.7" r="4.95" stroke="#0000ff"/><circle cx="1174.0" cy="1305.2" r="4.95" stroke="#0000ff"/><circle cx="1174.0" cy="1316.6" r="4.95" stroke="#ff0000"/><circle cx="1174.8" cy="1321.5" r="4.95" stroke="#ff0000"/><circle cx="1200.1" cy="1287.3" r="4.95" stroke="#ff0000"/><circle cx="1193.6" cy="1290.5" r="4.95" stroke="#0000ff"/><circle cx="1213.9" cy="1271.0" r="4.95" stroke="#0000ff"/><circle cx="1215.6" cy="1287.3" r="4.95" stroke="#0000ff"/><circle cx="1226.2" cy="1284.8" r="4.95" stroke="#0000ff"/><circle cx="1211.5" cy="1300.3" r="4.95" stroke="#ff0000"/><circle cx="1222.9" cy="1300.3" r="4.95" stroke="#ff0000"/><circle cx="1205.8" cy="1257.9" r="4.95" stroke="#0000ff"/><circle cx="1218.0" cy="1261.2" r="4.95" stroke="#ff0000"/><circle cx="1208.2" cy="1249.8" r="4.95" stroke="#0000ff"/><circle cx="1242.5" cy="1280.7" r="4.95" stroke="#ff0000"/><circle cx="1235.9" cy="1264.4" r="4.95" stroke="#0000ff"/><circle cx="1239.2" cy="1261.2" r="4.95" stroke="#0000ff"/><circle cx="1245.7" cy="1259.6" r="4.95" stroke="#ff0000"/><circle cx="1253.9" cy="1253.0" r="4.95" stroke="#0000ff"/><circle cx="1224.5" cy="1246.5" r="4.95" stroke="#0000ff"/><circle cx="1231.0" cy="1249.8" r="4.95" stroke="#0000ff"/><circle cx="1237.6" cy="1246.5" r="4.95" stroke="#0000ff"/><circle cx="1249.0" cy="1244.9" r="4.95" stroke="#ff0000"/><circle cx="1265.3" cy="1260.4" r="4.95" stroke="#ff0000"/><circle cx="1262.0" cy="1271.0" r="4.95" stroke="#0000ff"/><circle cx="1273.4" cy="1266.1" r="4.95" stroke="#ff0000"/><circle cx="1276.7" cy="1257.9" r="4.95" stroke="#0000ff"/><circle cx="1281.6" cy="1248.1" r="4.95" stroke="#0000ff"/><circle cx="1279.9" cy="1244.9" r="4.95" stroke="#0000ff"/><circle cx="1279.1" cy="1284.0" r="4.95" stroke="#0000ff"/><circle cx="1268.5" cy="1287.3" r="4.95" stroke="#0000ff"/><circle cx="1271.0" cy="1295.4" r="4.95" stroke="#ff0000"/><circle cx="1260.4" cy="1301.9" r="4.95" stroke="#ff0000"/><circle cx="1287.3" cy="1313.3" r="4.95" stroke="#ff0000"/><circle cx="1269.3" cy="1315.0" r="4.95" stroke="#ff0000"/><circle cx="1262.0" cy="1313.3" r="4.95" stroke="#0000ff"/><circle cx="1259.6" cy="1323.9" r="4.95" stroke="#0000ff"/><circle cx="1250.6" cy="1328.0" r="4.95" stroke="#0000ff"/><circle cx="1188.7" cy="1314.2" r="4.95" stroke="#0000ff"/><circle cx="1196.8" cy="1311.7" r="4.95" stroke="#ff0000"/><circle cx="1206.6" cy="1310.1" r="4.95" stroke="#0000ff"/><circle cx="1218.0" cy="1314.2" r="4.95" stroke="#0000ff"/><circle cx="1234.3" cy="1317.4" r="4.95" stroke="#0000ff"/><circle cx="1132.4" cy="1326.4" r="4.95" stroke="#0000ff"/><circle cx="1145.5" cy="1329.6" r="4.95" stroke="#0000ff"/><circle cx="1133.3" cy="1337.8" r="4.95" stroke="#0000ff"/><circle cx="1140.6" cy="1341.0" r="4.95" stroke="#0000ff"/><circle cx="1169.9" cy="1337.0" r="4.95" stroke="#0000ff"/><circle cx="1161.8" cy="1344.3" r="4.95" stroke="#ff0000"/><circle cx="1151.2" cy="1353.3" r="4.95" stroke="#ff0000"/><circle cx="1180.5" cy="1341.0" r="4.95" stroke="#ff0000"/><circle cx="1188.7" cy="1332.1" r="4.95" stroke="#0000ff"/><circle cx="1202.5" cy="1331.3" r="4.95" stroke="#0000ff"/><circle cx="1214.7" cy="1331.3" r="4.95" stroke="#0000ff"/><circle cx="1211.5" cy="1324.7" r="4.95" stroke="#ff0000"/><circle cx="1219.6" cy="1331.3" r="4.95" stroke="#ff0000"/><circle cx="1227.8" cy="1341.0" r="4.95" stroke="#0000ff"/><circle cx="1221.3" cy="1352.5" r="4.95" stroke="#0000ff"/><circle cx="1229.4" cy="1345.9" r="4.95" stroke="#0000ff"/><circle cx="1229.4" cy="1354.1" r="4.95" stroke="#ff0000"/><circle cx="1240.8" cy="1344.3" r="4.95" stroke="#0000ff"/><circle cx="1246.5" cy="1341.0" r="4.95" stroke="#0000ff"/><circle cx="1253.0" cy="1345.9" r="4.95" stroke="#0000ff"/><circle cx="1244.9" cy="1354.9" r="4.95" stroke="#0000ff"/><circle cx="1269.3" cy="1347.6" r="4.95" stroke="#ff0000"/><circle cx="1272.6" cy="1355.7" r="4.95" stroke="#0000ff"/><circle cx="1263.6" cy="1359.0" r="4.95" stroke="#ff0000"/><circle cx="1214.7" cy="1360.6" r="4.95" stroke="#ff0000"/><circle cx="1224.5" cy="1360.6" r="4.95" stroke="#ff0000"/><circle cx="1219.6" cy="1370.4" r="4.95" stroke="#0000ff"/><circle cx="1248.2" cy="1362.2" r="4.95" stroke="#ff0000"/><circle cx="1186.2" cy="1363.0" r="4.95" stroke="#0000ff"/><circle cx="1175.6" cy="1368.7" r="4.95" stroke="#0000ff"/><circle cx="1130.0" cy="1372.0" r="4.95" stroke="#ff0000"/><circle cx="1211.5" cy="1376.9" r="4.95" stroke="#ff0000"/><circle cx="1196.0" cy="1385.0" r="4.95" stroke="#0000ff"/><circle cx="1222.9" cy="1385.0" r="4.95" stroke="#0000ff"/><circle cx="1257.9" cy="1381.0" r="4.95" stroke="#0000ff"/><circle cx="1274.2" cy="1383.4" r="4.95" stroke="#0000ff"/><circle cx="1247.3" cy="1381.8" r="4.95" stroke="#ff0000"/><circle cx="1169.1" cy="1388.3" r="4.95" stroke="#ff0000"/><circle cx="939.1" cy="1402.8" r="4.95" stroke="#0000ff"/><circle cx="958.2" cy="1397.6" r="4.95" stroke="#0000ff"/><circle cx="967.4" cy="1416.7" r="4.95" stroke="#0000ff"/><circle cx="933.0" cy="1428.9" r="4.95" stroke="#ff0000"/><circle cx="934.6" cy="1445.6" r="4.95" stroke="#ff0000"/><circle cx="946.7" cy="1452.9" r="4.95" stroke="#0000ff"/><circle cx="936.7" cy="1463.5" r="4.95" stroke="#0000ff"/><circle cx="934.6" cy="1495.7" r="4.95" stroke="#0000ff"/><circle cx="990.7" cy="1402.1" r="4.95" stroke="#0000ff"/><circle cx="990.1" cy="1412.8" r="4.95" stroke="#0000ff"/><circle cx="992.3" cy="1420.4" r="4.95" stroke="#ff0000"/><circle cx="995.3" cy="1428.9" r="4.95" stroke="#ff0000"/><circle cx="1004.4" cy="1406.7" r="4.95" stroke="#0000ff"/><circle cx="1012.0" cy="1410.3" r="4.95" stroke="#0000ff"/><circle cx="1022.6" cy="1414.3" r="4.95" stroke="#ff0000"/><circle cx="1026.6" cy="1411.9" r="4.95" stroke="#0000ff"/><circle cx="992.3" cy="1477.5" r="4.95" stroke="#ff0000"/><circle cx="1012.6" cy="1489.6" r="4.95" stroke="#0000ff"/><circle cx="1044.5" cy="1506.9" r="4.95" stroke="#0000ff"/><circle cx="1027.8" cy="1444.1" r="4.95" stroke="#0000ff"/><circle cx="1053.9" cy="1424.3" r="4.95" stroke="#0000ff"/><circle cx="1062.7" cy="1417.3" r="4.95" stroke="#0000ff"/><circle cx="1060.6" cy="1437.1" r="4.95" stroke="#ff0000"/><circle cx="1080.3" cy="1411.3" r="4.95" stroke="#ff0000"/><circle cx="1086.4" cy="1414.9" r="4.95" stroke="#ff0000"/><circle cx="1087.3" cy="1431.6" r="4.95" stroke="#ff0000"/><circle cx="1080.3" cy="1445.6" r="4.95" stroke="#0000ff"/><circle cx="1086.4" cy="1443.1" r="4.95" stroke="#0000ff"/><circle cx="1089.4" cy="1453.8" r="4.95" stroke="#0000ff"/><circle cx="1109.2" cy="1468.1" r="4.95" stroke="#ff0000"/><circle cx="1111.6" cy="1499.9" r="4.95" stroke="#ff0000"/><circle cx="1120.7" cy="1506.9" r="4.95" stroke="#ff0000"/><circle cx="1138.9" cy="1480.2" r="4.95" stroke="#ff0000"/><circle cx="1146.2" cy="1472.6" r="4.95" stroke="#0000ff"/><circle cx="1150.8" cy="1507.5" r="4.95" stroke="#ff0000"/><circle cx="1142.0" cy="1408.8" r="4.95" stroke="#ff0000"/><circle cx="1138.9" cy="1417.3" r="4.95" stroke="#ff0000"/><circle cx="1139.6" cy="1420.4" r="4.95" stroke="#ff0000"/><circle cx="1166.9" cy="1427.4" r="4.95" stroke="#ff0000"/><circle cx="1175.4" cy="1424.0" r="4.95" stroke="#ff0000"/><circle cx="1189.7" cy="1428.0" r="4.95" stroke="#0000ff"/><circle cx="1196.7" cy="1432.5" r="4.95" stroke="#0000ff"/><circle cx="1183.6" cy="1452.9" r="4.95" stroke="#0000ff"/><circle cx="1203.3" cy="1405.8" r="4.95" stroke="#0000ff"/><circle cx="1224.0" cy="1403.7" r="4.95" stroke="#0000ff"/><circle cx="1236.1" cy="1405.2" r="4.95" stroke="#0000ff"/><circle cx="1214.0" cy="1419.8" r="4.95" stroke="#0000ff"/><circle cx="1214.0" cy="1418.9" r="4.95" stroke="#ff0000"/><circle cx="1224.6" cy="1418.9" r="4.95" stroke="#0000ff"/><circle cx="1224.6" cy="1424.0" r="4.95" stroke="#0000ff"/><circle cx="1214.0" cy="1431.0" r="4.95" stroke="#0000ff"/><circle cx="1222.5" cy="1434.9" r="4.95" stroke="#ff0000"/><circle cx="1220.6" cy="1451.7" r="4.95" stroke="#0000ff"/><circle cx="1248.3" cy="1435.6" r="4.95" stroke="#0000ff"/><circle cx="1251.9" cy="1430.4" r="4.95" stroke="#ff0000"/><circle cx="1203.3" cy="1463.8" r="4.95" stroke="#0000ff"/><circle cx="1213.1" cy="1469.6" r="4.95" stroke="#ff0000"/><circle cx="1228.5" cy="1471.4" r="4.95" stroke="#0000ff"/><circle cx="1238.3" cy="1462.9" r="4.95" stroke="#ff0000"/><circle cx="1239.8" cy="1462.0" r="4.95" stroke="#0000ff"/><circle cx="1248.9" cy="1471.4" r="4.95" stroke="#0000ff"/><circle cx="1263.5" cy="1411.3" r="4.95" stroke="#ff0000"/><circle cx="1266.5" cy="1420.4" r="4.95" stroke="#0000ff"/><circle cx="1275.6" cy="1414.3" r="4.95" stroke="#0000ff"/><circle cx="1278.3" cy="1458.3" r="4.95" stroke="#ff0000"/><circle cx="1201.2" cy="1510.6" r="4.95" stroke="#ff0000"/><circle cx="1193.6" cy="1517.6" r="4.95" stroke="#ff0000"/><circle cx="1271.7" cy="1517.6" r="4.95" stroke="#0000ff"/><circle cx="1266.1" cy="1182.8" r="4.95" stroke="#0000ff"/><circle cx="1250.6" cy="1189.6" r="4.95" stroke="#0000ff"/><circle cx="1246.9" cy="1154.8" r="4.95" stroke="#0000ff"/><circle cx="1274.1" cy="1177.7" r="4.95" stroke="#0000ff"/><circle cx="1211.5" cy="1181.0" r="4.95" stroke="#0000ff"/><circle cx="1272.1" cy="1216.1" r="4.95" stroke="#0000ff"/><circle cx="1269.3" cy="1219.0" r="4.95" stroke="#0000ff"/><circle cx="1229.3" cy="1218.5" r="4.95" stroke="#0000ff"/><circle cx="1247.0" cy="1183.8" r="4.95" stroke="#0000ff"/><circle cx="1250.9" cy="1199.4" r="4.95" stroke="#0000ff"/><circle cx="1222.2" cy="1171.8" r="4.95" stroke="#0000ff"/><circle cx="1209.4" cy="1220.3" r="4.95" stroke="#0000ff"/><circle cx="1262.2" cy="1190.4" r="4.95" stroke="#0000ff"/><circle cx="1213.5" cy="1208.9" r="4.95" stroke="#0000ff"/><circle cx="1264.3" cy="1188.3" r="4.95" stroke="#0000ff"/><circle cx="1214.3" cy="1191.3" r="4.95" stroke="#0000ff"/><circle cx="1260.5" cy="1227.1" r="4.95" stroke="#0000ff"/><circle cx="1261.8" cy="1157.8" r="4.95" stroke="#0000ff"/><circle cx="1260.0" cy="1229.4" r="4.95" stroke="#0000ff"/><circle cx="1231.9" cy="1229.0" r="4.95" stroke="#0000ff"/><circle cx="1249.3" cy="1154.7" r="4.95" stroke="#0000ff"/><circle cx="1233.0" cy="1219.9" r="4.95" stroke="#0000ff"/><circle cx="1243.4" cy="1197.2" r="4.95" stroke="#0000ff"/><circle cx="1268.5" cy="1187.2" r="4.95" stroke="#0000ff"/><circle cx="1224.9" cy="1178.1" r="4.95" stroke="#0000ff"/><circle cx="1287.1" cy="1154.0" r="4.95" stroke="#ff0000"/><circle cx="1291.0" cy="1156.6" r="4.95" stroke="#ff0000"/><circle cx="1298.0" cy="1153.7" r="4.95" stroke="#ff0000"/><circle cx="1293.6" cy="1160.9" r="4.95" stroke="#ff0000"/><circle cx="1293.2" cy="1139.3" r="4.95" stroke="#ff0000"/><circle cx="1285.1" cy="1162.1" r="4.95" stroke="#ff0000"/><circle cx="1266.5" cy="1192.6" r="4.95" stroke="#0000ff"/><circle cx="1262.4" cy="1228.0" r="4.95" stroke="#0000ff"/><circle cx="1266.3" cy="1236.6" r="4.95" stroke="#0000ff"/><circle cx="1275.0" cy="1217.8" r="4.95" stroke="#0000ff"/><circle cx="1266.8" cy="1215.5" r="4.95" stroke="#0000ff"/><circle cx="1265.3" cy="1205.1" r="4.95" stroke="#0000ff"/><circle cx="1261.5" cy="1207.0" r="4.95" stroke="#0000ff"/><circle cx="1265.1" cy="1189.4" r="4.95" stroke="#0000ff"/><circle cx="1257.6" cy="1231.7" r="4.95" stroke="#0000ff"/><circle cx="1264.6" cy="1217.8" r="4.95" stroke="#0000ff"/><circle cx="1242.0" cy="1389.0" r="4.95" stroke="#0000ff"/><circle cx="1294.6" cy="1148.6" r="4.95" stroke="#0000ff"/><circle cx="1286.3" cy="1153.3" r="4.95" stroke="#0000ff"/><circle cx="1287.5" cy="1164.6" r="4.95" stroke="#0000ff"/><circle cx="1183.2" cy="1169.9" r="4.95" stroke="#0000ff"/><circle cx="1201.0" cy="1161.6" r="4.95" stroke="#0000ff"/><circle cx="1221.1" cy="1155.7" r="4.95" stroke="#0000ff"/></g>
<path d="M895.0,1200.6h16.6v16.6h-16.6zM694.6,1252.1h16.6v16.6h-16.6zM783.9,1279.5h16.6v16.6h-16.6zM893.3,1269.0h16.6v16.6h-16.6zM917.3,1273.9h16.6v16.6h-16.6zM773.5,1305.0h16.6v16.6h-16.6zM858.4,1308.4h16.6v16.6h-16.6zM917.3,1306.1h16.6v16.6h-16.6zM694.6,1334.6h16.6v16.6h-16.6zM773.5,1421.7h16.6v16.6h-16.6zM857.9,1466.6h16.6v16.6h-16.6zM783.9,1489.5h16.6v16.6h-16.6zM923.1,1736.4h16.6v16.6h-16.6zM968.8,1557.0h16.6v16.6h-16.6zM1000.7,1568.2h16.6v16.6h-16.6zM1160.1,1664.8h16.6v16.6h-16.6zM929.1,1206.6h16.6v16.6h-16.6zM1079.0,1217.7h16.6v16.6h-16.6zM1114.3,1185.4h16.6v16.6h-16.6zM1117.3,1194.3h16.6v16.6h-16.6zM1117.3,1203.2h16.6v16.6h-16.6zM1114.3,1225.4h16.6v16.6h-16.6zM1259.9,1122.4h16.6v16.6h-16.6zM1243.9,1133.9h16.6v16.6h-16.6zM1239.0,1143.6h16.6v16.6h-16.6zM1235.8,1150.1h16.6v16.6h-16.6zM1234.2,1158.3h16.6v16.6h-16.6zM1242.3,1153.4h16.6v16.6h-16.6zM1258.6,1147.7h16.6v16.6h-16.6zM1259.9,1172.1h16.6v16.6h-16.6zM1154.3,1162.4h16.6v16.6h-16.6zM1175.5,1161.6h16.6v16.6h-16.6zM1192.6,1152.6h16.6v16.6h-16.6zM1175.5,1178.7h16.6v16.6h-16.6zM1192.6,1175.4h16.6v16.6h-16.6zM1134.7,1199.0h16.6v16.6h-16.6zM1159.2,1198.2h16.6v16.6h-16.6zM1173.9,1194.2h16.6v16.6h-16.6zM1191.8,1191.7h16.6v16.6h-16.6zM1123.3,1182.7h16.6v16.6h-16.6zM1233.3,1186.0h16.6v16.6h-16.6zM1236.6,1200.7h16.6v16.6h-16.6zM1172.2,1213.7h16.6v16.6h-16.6zM1195.0,1225.1h16.6v16.6h-16.6zM995.0,1250.2h16.6v16.6h-16.6zM999.5,1245.8h16.6v16.6h-16.6zM1009.8,1239.8h16.6v16.6h-16.6zM969.1,1285.8h16.6v16.6h-16.6zM995.0,1296.9h16.6v16.6h-16.6zM1010.6,1313.9h16.6v16.6h-16.6zM929.1,1368.7h16.6v16.6h-16.6zM1079.5,1251.7h16.6v16.6h-16.6zM1114.3,1233.9h16.6v16.6h-16.6zM1132.3,1252.9h16.6v16.6h-16.6zM1154.3,1244.7h16.6v16.6h-16.6zM1191.8,1279.0h16.6v16.6h-16.6zM1234.2,1272.4h16.6v16.6h-16.6zM1257.0,1252.1h16.6v16.6h-16.6zM1234.2,1377.6h16.6v16.6h-16.6zM924.7,1420.6h16.6v16.6h-16.6zM1195.0,1455.5h16.6v16.6h-16.6zM1240.6,1463.1h16.6v16.6h-16.6z" fill="none" stroke="#000" stroke-width="3.5"/>
<rect x="205.7" y="1111.4" width="435" height="163.4" rx="11" ry="11" fill="#fff" fill-opacity="0.8" stroke="#cccccc" stroke-opacity="0.8" stroke-width="3"/>
</g>
<rect x="179.5" y="1085.5" width="1167.8" height="869.8" fill="none" stroke="#000" stroke-width="2.7"/>
<path d="M179.5,1918.25h-6M179.5,1879.62h-6M179.5,1852.21h-6M179.5,1830.95h-6M179.5,1813.57h-6M179.5,1798.89h-6M179.5,1786.16h-6M179.5,1774.94h-6M179.5,1764.90h11M1347.3,1764.90h-11M179.5,1698.85h-6M179.5,1660.22h-6M179.5,1632.81h-6M179.5,1611.55h-6M179.5,1594.17h-6M179.5,1579.49h-6M179.5,1566.76h-6M179.5,1555.54h-6M179.5,1545.50h11M1347.3,1545.50h-11M179.5,1479.45h-6M179.5,1440.82h-6M179.5,1413.41h-6M179.5,1392.15h-6M179.5,1374.77h-6M179.5,1360.09h-6M179.5,1347.36h-6M179.5,1336.14h-6M179.5,1326.10h11M1347.3,1326.10h-11M179.5,1260.05h-6M179.5,1221.42h-6M179.5,1194.01h-6M179.5,1172.75h-6M179.5,1155.37h-6M179.5,1140.69h-6M179.5,1127.96h-6M179.5,1116.74h-6M179.5,1106.70h11M1347.3,1106.70h-11" stroke="#000" stroke-width="2.6" fill="none"/>
<path d="M238.21,1955.3v6M333.56,1955.3v6M401.22,1955.3v6M453.69,1955.3v6M496.57,1955.3v6M532.82,1955.3v6M564.22,1955.3v6M591.92,1955.3v6M616.70,1955.3v-11M616.70,1085.5v11M779.71,1955.3v6M875.06,1955.3v6M942.72,1955.3v6M995.19,1955.3v6M1038.07,1955.3v6M1074.32,1955.3v6M1105.72,1955.3v6M1133.42,1955.3v6M1158.20,1955.3v-11M1158.20,1085.5v11M1321.21,1955.3v6" stroke="#000" stroke-width="2.6" fill="none"/>
<text x="93.70" y="1129.20" font-family="'Liberation Serif', serif" font-size="52.5">10</text>
<text x="145.60" y="1097.60" font-family="'Liberation Serif', serif" font-size="37">0</text>
<text x="74.50" y="1348.60" font-family="'Liberation Serif', serif" font-size="52.5">10</text>
<text x="125.00" y="1317.00" font-family="'Liberation Serif', serif" font-size="37">−1</text>
<text x="74.50" y="1568.00" font-family="'Liberation Serif', serif" font-size="52.5">10</text>
<text x="125.00" y="1536.40" font-family="'Liberation Serif', serif" font-size="37">−2</text>
<text x="74.50" y="1787.40" font-family="'Liberation Serif', serif" font-size="52.5">10</text>
<text x="125.00" y="1755.80" font-family="'Liberation Serif', serif" font-size="37">−3</text>
<text x="578.35" y="2016.20" font-family="'Liberation Serif', serif" font-size="53">10</text>
<text x="629.35" y="1984.70" font-family="'Liberation Serif', serif" font-size="37">1</text>
<text x="1119.85" y="2016.20" font-family="'Liberation Serif', serif" font-size="53">10</text>
<text x="1170.85" y="1984.70" font-family="'Liberation Serif', serif" font-size="37">2</text>
<circle cx="278.9" cy="1150.8" r="5" fill="none" stroke="#ff0000" stroke-width="3.4"/>
<circle cx="278.9" cy="1224.1" r="5" fill="none" stroke="#0000ff" stroke-width="3.4"/>
<text x="373.10" y="1170.50" font-family="'Liberation Serif', serif" font-size="53">Ascending</text>
<text x="373.10" y="1244.00" font-family="'Liberation Serif', serif" font-size="53">Descending</text>
<text x="699.90" y="2082.50" font-family="'Liberation Sans', sans-serif" font-size="54" font-style="italic" stroke="#000" stroke-width="1.1">α</text>
<text x="735.10" y="2092.00" font-family="'Liberation Sans', sans-serif" font-size="40" font-style="italic" stroke="#000" stroke-width="0.4">q</text>
<text x="760.70" y="2081.00" font-family="'Liberation Sans', sans-serif" font-size="50">(</text>
<text x="780.20" y="2063.50" font-family="'Liberation Sans', sans-serif" font-size="39" font-style="italic" stroke="#000" stroke-width="0.4">o</text>
<text x="807.10" y="2081.00" font-family="'Liberation Sans', sans-serif" font-size="50">)</text>
<g transform="translate(46.5,0) rotate(-90)">
<text x="-1539.00" y="0.00" font-family="'Liberation Serif', serif" font-size="53">(au)</text>
</g>
<path d="M45.8,1552L6.6,1569.5L45.8,1587ZM41.6,1558.9L12.9,1569.6L41.6,1580.2Z" fill="#000" fill-rule="evenodd"/>
</svg></body></html>
